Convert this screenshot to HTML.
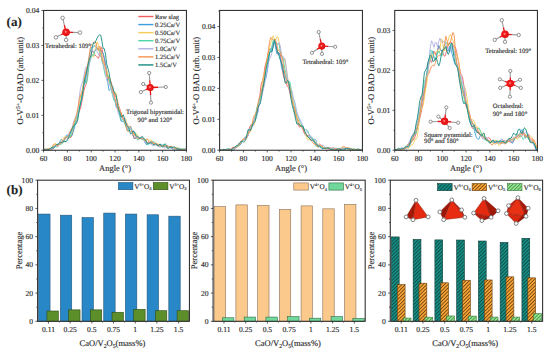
<!DOCTYPE html><html><head><meta charset="utf-8"><style>html,body{margin:0;padding:0;background:#fff;width:550px;height:354px;overflow:hidden}svg{display:block}text{stroke:#444;stroke-width:0.15px}</style></head><body>
<svg width="550" height="354" viewBox="0 0 550 354" text-rendering="geometricPrecision" font-family='"Liberation Serif", serif' fill="#222">
<defs>
<radialGradient id="ball" cx="0.45" cy="0.45" r="0.6"><stop offset="0" stop-color="#ffb0b0"/><stop offset="0.3" stop-color="#f42020"/><stop offset="1" stop-color="#d80808"/></radialGradient>
<pattern id="hT" patternUnits="userSpaceOnUse" width="2.5" height="3" patternTransform="rotate(45)"><rect width="2.5" height="3" fill="#178c82"/><rect width="0.65" height="3" fill="#0a3a35"/></pattern>
<pattern id="hO" patternUnits="userSpaceOnUse" width="2.5" height="3" patternTransform="rotate(45)"><rect width="2.5" height="3" fill="#f7a436"/><rect width="0.8" height="3" fill="#6b4010"/></pattern>
<pattern id="hG" patternUnits="userSpaceOnUse" width="2.5" height="3" patternTransform="rotate(45)"><rect width="2.5" height="3" fill="#8fe68f"/><rect width="0.7" height="3" fill="#3f7a3f"/></pattern>
</defs>
<g clip-path="none">
<polyline points="43.60,150.25 44.79,149.08 45.98,149.53 47.17,150.05 48.36,150.25 49.55,150.09 50.74,149.00 51.93,149.05 53.12,149.01 54.31,146.95 55.50,144.94 56.69,145.20 57.89,146.20 59.08,145.21 60.27,143.39 61.46,143.16 62.65,143.03 63.84,141.11 65.03,137.70 66.22,136.38 67.41,138.24 68.60,138.22 69.79,137.55 70.98,137.38 72.17,134.83 73.36,129.50 74.55,123.90 75.74,122.48 76.93,121.39 78.12,114.84 79.31,110.82 80.50,108.75 81.69,102.48 82.88,95.94 84.07,89.83 85.26,85.86 86.45,83.38 87.65,74.45 88.84,63.37 90.03,57.91 91.22,54.42 92.41,50.64 93.60,52.05 94.79,55.26 95.98,55.70 97.17,56.98 98.36,58.41 99.55,55.48 100.74,47.41 101.93,48.02 103.12,54.66 104.31,59.19 105.50,66.25 106.69,71.54 107.88,76.46 109.07,81.48 110.26,80.95 111.45,82.93 112.64,89.85 113.83,93.72 115.03,95.30 116.22,97.18 117.41,101.24 118.60,105.83 119.79,108.87 120.98,113.75 122.17,117.05 123.36,118.40 124.55,121.40 125.74,122.41 126.93,123.36 128.12,126.40 129.31,126.64 130.50,126.65 131.69,129.88 132.88,135.06 134.07,138.60 135.26,138.01 136.45,136.92 137.64,137.72 138.83,138.21 140.02,138.10 141.21,138.84 142.40,139.04 143.59,139.43 144.79,141.15 145.98,140.63 147.17,138.68 148.36,140.35 149.55,143.14 150.74,142.98 151.93,141.64 153.12,141.58 154.31,143.13 155.50,144.89 156.69,145.15 157.88,144.37 159.07,144.68 160.26,145.70 161.45,146.09 162.64,145.82 163.83,145.74 165.02,146.19 166.21,145.87 167.40,145.48 168.59,146.47 169.78,147.05 170.97,146.89 172.16,147.44 173.36,148.06 174.55,149.12 175.74,149.74 176.93,148.84 178.12,148.45 179.31,148.77 180.50,149.16 181.69,149.84 182.88,150.17 184.07,149.52 185.26,148.90 186.45,149.56" fill="none" stroke="#f25c5c" stroke-width="0.9" stroke-linejoin="round"/>
<polyline points="43.60,150.25 44.79,149.82 45.98,149.08 47.17,148.69 48.36,148.82 49.55,148.66 50.74,148.58 51.93,149.01 53.12,148.31 54.31,147.15 55.50,146.21 56.69,145.10 57.89,144.61 59.08,143.65 60.27,140.59 61.46,139.18 62.65,140.42 63.84,140.40 65.03,138.26 66.22,135.37 67.41,134.88 68.60,136.69 69.79,136.95 70.98,135.82 72.17,135.20 73.36,131.64 74.55,126.90 75.74,122.12 76.93,115.59 78.12,109.86 79.31,108.57 80.50,104.64 81.69,95.36 82.88,86.75 84.07,84.89 85.26,83.00 86.45,74.38 87.65,67.13 88.84,60.23 90.03,52.14 91.22,47.65 92.41,46.60 93.60,47.09 94.79,45.40 95.98,46.79 97.17,48.68 98.36,48.42 99.55,49.13 100.74,49.81 101.93,52.43 103.12,53.07 104.31,57.27 105.50,63.39 106.69,70.99 107.88,83.56 109.07,90.56 110.26,89.36 111.45,89.09 112.64,92.76 113.83,95.67 115.03,100.88 116.22,107.50 117.41,107.73 118.60,108.37 119.79,115.41 120.98,121.06 122.17,121.30 123.36,121.42 124.55,122.95 125.74,125.40 126.93,128.62 128.12,130.82 129.31,128.44 130.50,126.42 131.69,129.82 132.88,134.16 134.07,137.16 135.26,138.96 136.45,137.69 137.64,137.35 138.83,138.71 140.02,138.31 141.21,137.84 142.40,138.13 143.59,139.26 144.79,141.61 145.98,144.27 147.17,144.56 148.36,143.23 149.55,142.51 150.74,141.95 151.93,142.15 153.12,143.91 154.31,144.59 155.50,144.39 156.69,144.66 157.88,144.96 159.07,144.93 160.26,144.63 161.45,144.91 162.64,145.17 163.83,145.13 165.02,145.82 166.21,147.07 167.40,147.30 168.59,147.25 169.78,146.91 170.97,147.02 172.16,148.75 173.36,149.83 174.55,149.35 175.74,149.27 176.93,149.80 178.12,149.81 179.31,150.19 180.50,150.25 181.69,149.87 182.88,149.70 184.07,150.20 185.26,150.25 186.45,150.25" fill="none" stroke="#3d9edc" stroke-width="0.9" stroke-linejoin="round"/>
<polyline points="43.60,150.25 44.79,150.21 45.98,149.53 47.17,148.72 48.36,148.68 49.55,149.18 50.74,148.97 51.93,147.71 53.12,145.96 54.31,143.90 55.50,143.39 56.69,144.87 57.89,145.05 59.08,143.81 60.27,142.58 61.46,140.93 62.65,139.37 63.84,137.78 65.03,136.34 66.22,137.06 67.41,138.42 68.60,137.93 69.79,136.16 70.98,134.99 72.17,132.41 73.36,126.32 74.55,122.19 75.74,120.76 76.93,118.78 78.12,114.30 79.31,105.09 80.50,96.89 81.69,94.25 82.88,86.77 84.07,77.43 85.26,74.24 86.45,70.30 87.65,66.07 88.84,63.54 90.03,57.14 91.22,52.82 92.41,56.36 93.60,57.08 94.79,51.27 95.98,44.88 97.17,41.90 98.36,45.16 99.55,50.40 100.74,52.69 101.93,54.14 103.12,58.90 104.31,65.56 105.50,68.41 106.69,69.73 107.88,74.69 109.07,80.76 110.26,85.37 111.45,90.60 112.64,94.17 113.83,94.27 115.03,91.96 116.22,93.55 117.41,101.86 118.60,107.44 119.79,111.00 120.98,115.51 122.17,118.11 123.36,119.54 124.55,118.30 125.74,118.95 126.93,123.85 128.12,126.54 129.31,126.22 130.50,128.10 131.69,130.48 132.88,132.97 134.07,135.54 135.26,134.44 136.45,133.39 137.64,134.87 138.83,137.09 140.02,138.30 141.21,137.95 142.40,138.37 143.59,140.00 144.79,140.71 145.98,139.82 147.17,139.49 148.36,140.38 149.55,140.46 150.74,139.96 151.93,140.58 153.12,142.50 154.31,144.15 155.50,144.74 156.69,144.50 157.88,143.86 159.07,144.18 160.26,145.29 161.45,146.19 162.64,146.20 163.83,145.68 165.02,146.08 166.21,146.86 167.40,147.51 168.59,147.98 169.78,147.33 170.97,146.31 172.16,146.86 173.36,148.29 174.55,149.14 175.74,148.93 176.93,147.78 178.12,147.92 179.31,149.67 180.50,150.25 181.69,149.99 182.88,150.25 184.07,150.25 185.26,150.25 186.45,149.98" fill="none" stroke="#f6cc58" stroke-width="0.9" stroke-linejoin="round"/>
<polyline points="43.60,150.25 44.79,149.86 45.98,149.49 47.17,149.37 48.36,149.48 49.55,148.93 50.74,148.26 51.93,148.47 53.12,147.63 54.31,146.68 55.50,146.65 56.69,147.09 57.89,146.43 59.08,144.50 60.27,144.57 61.46,144.33 62.65,142.72 63.84,141.86 65.03,139.26 66.22,137.02 67.41,136.61 68.60,136.65 69.79,137.62 70.98,135.39 72.17,130.63 73.36,127.96 74.55,124.76 75.74,119.86 76.93,118.46 78.12,114.27 79.31,108.14 80.50,103.31 81.69,98.61 82.88,90.19 84.07,79.34 85.26,78.37 86.45,83.25 87.65,77.99 88.84,66.13 90.03,61.23 91.22,57.37 92.41,54.66 93.60,55.61 94.79,51.57 95.98,48.86 97.17,48.89 98.36,49.57 99.55,50.97 100.74,54.76 101.93,61.47 103.12,64.77 104.31,70.99 105.50,76.22 106.69,75.11 107.88,75.63 109.07,79.73 110.26,85.45 111.45,90.40 112.64,95.70 113.83,99.98 115.03,101.55 116.22,104.66 117.41,107.30 118.60,110.28 119.79,116.36 120.98,120.37 122.17,119.74 123.36,119.72 124.55,122.55 125.74,126.21 126.93,128.74 128.12,131.03 129.31,131.16 130.50,129.47 131.69,129.30 132.88,131.58 134.07,132.69 135.26,132.63 136.45,136.84 137.64,140.25 138.83,139.05 140.02,137.57 141.21,138.33 142.40,139.87 143.59,139.05 144.79,139.07 145.98,142.12 147.17,144.43 148.36,144.70 149.55,143.05 150.74,141.67 151.93,141.73 153.12,141.74 154.31,142.13 155.50,143.12 156.69,144.29 157.88,145.90 159.07,146.40 160.26,146.07 161.45,146.15 162.64,145.23 163.83,144.58 165.02,145.86 166.21,147.53 167.40,147.36 168.59,146.74 169.78,147.47 170.97,147.95 172.16,147.93 173.36,147.61 174.55,147.52 175.74,148.84 176.93,149.20 178.12,148.15 179.31,148.08 180.50,148.63 181.69,148.93 182.88,148.80 184.07,148.58 185.26,149.15 186.45,150.11" fill="none" stroke="#4ed8aa" stroke-width="0.9" stroke-linejoin="round"/>
<polyline points="43.60,150.25 44.79,150.25 45.98,149.39 47.17,149.70 48.36,149.75 49.55,148.94 50.74,148.45 51.93,147.88 53.12,147.16 54.31,146.70 55.50,145.51 56.69,144.25 57.89,143.91 59.08,143.72 60.27,142.84 61.46,141.72 62.65,140.93 63.84,140.91 65.03,142.17 66.22,141.56 67.41,137.93 68.60,133.71 69.79,132.30 70.98,132.89 72.17,128.52 73.36,122.54 74.55,119.19 75.74,117.60 76.93,115.29 78.12,109.41 79.31,97.31 80.50,87.77 81.69,84.50 82.88,80.75 84.07,75.34 85.26,69.12 86.45,66.30 87.65,66.60 88.84,66.04 90.03,60.72 91.22,52.56 92.41,50.80 93.60,52.41 94.79,50.21 95.98,48.89 97.17,51.38 98.36,54.25 99.55,56.41 100.74,55.96 101.93,56.36 103.12,64.03 104.31,68.18 105.50,71.98 106.69,80.00 107.88,82.53 109.07,84.36 110.26,86.55 111.45,88.80 112.64,93.99 113.83,97.73 115.03,99.43 116.22,103.90 117.41,110.17 118.60,114.42 119.79,115.97 120.98,116.70 122.17,119.87 123.36,119.82 124.55,118.18 125.74,121.14 126.93,125.93 128.12,128.93 129.31,129.25 130.50,128.63 131.69,130.14 132.88,130.69 134.07,130.80 135.26,134.61 136.45,137.37 137.64,137.40 138.83,137.14 140.02,137.66 141.21,138.34 142.40,138.23 143.59,139.07 144.79,142.19 145.98,143.70 147.17,142.58 148.36,142.95 149.55,143.73 150.74,144.05 151.93,145.18 153.12,145.29 154.31,144.83 155.50,144.91 156.69,145.34 157.88,146.11 159.07,146.69 160.26,147.03 161.45,146.65 162.64,146.26 163.83,147.28 165.02,148.26 166.21,147.79 167.40,146.81 168.59,146.55 169.78,147.45 170.97,148.70 172.16,148.36 173.36,147.54 174.55,148.82 175.74,149.85 176.93,149.98 178.12,149.97 179.31,149.08 180.50,148.84 181.69,149.60 182.88,150.25 184.07,150.25 185.26,149.78 186.45,149.82" fill="none" stroke="#b0b0e4" stroke-width="0.9" stroke-linejoin="round"/>
<polyline points="43.60,150.25 44.79,149.11 45.98,149.39 47.17,149.79 48.36,149.23 49.55,148.33 50.74,148.04 51.93,147.32 53.12,145.26 54.31,144.06 55.50,144.73 56.69,146.16 57.89,146.02 59.08,144.43 60.27,143.42 61.46,142.64 62.65,140.89 63.84,139.57 65.03,139.16 66.22,137.88 67.41,136.53 68.60,135.16 69.79,132.38 70.98,129.16 72.17,127.37 73.36,125.14 74.55,120.93 75.74,116.70 76.93,112.65 78.12,106.57 79.31,99.39 80.50,94.93 81.69,93.00 82.88,89.16 84.07,81.81 85.26,73.92 86.45,69.37 87.65,65.09 88.84,58.04 90.03,49.29 91.22,44.76 92.41,44.73 93.60,42.93 94.79,41.90 95.98,43.02 97.17,47.59 98.36,50.92 99.55,46.06 100.74,47.66 101.93,58.68 103.12,62.77 104.31,63.10 105.50,68.09 106.69,75.83 107.88,78.79 109.07,76.80 110.26,78.87 111.45,84.96 112.64,89.73 113.83,93.92 115.03,98.68 116.22,103.48 117.41,107.86 118.60,110.78 119.79,111.21 120.98,112.07 122.17,115.07 123.36,118.61 124.55,121.14 125.74,125.02 126.93,130.62 128.12,131.41 129.31,130.65 130.50,131.56 131.69,130.64 132.88,131.65 134.07,134.03 135.26,135.42 136.45,137.41 137.64,138.19 138.83,138.72 140.02,138.96 141.21,138.18 142.40,138.37 143.59,138.86 144.79,139.77 145.98,141.27 147.17,142.48 148.36,142.92 149.55,142.71 150.74,141.79 151.93,141.65 153.12,143.29 154.31,144.02 155.50,143.44 156.69,143.54 157.88,144.65 159.07,145.72 160.26,145.99 161.45,145.65 162.64,145.81 163.83,146.60 165.02,146.44 166.21,145.94 167.40,146.66 168.59,147.16 169.78,146.56 170.97,146.32 172.16,146.62 173.36,147.26 174.55,148.04 175.74,148.17 176.93,148.18 178.12,149.16 179.31,150.10 180.50,149.66 181.69,149.08 182.88,149.37 184.07,149.91 185.26,150.25 186.45,150.25" fill="none" stroke="#f8924e" stroke-width="0.9" stroke-linejoin="round"/>
<polyline points="43.60,150.25 44.79,149.60 45.98,150.05 47.17,149.95 48.36,149.56 49.55,149.23 50.74,148.40 51.93,147.23 53.12,147.06 54.31,147.33 55.50,145.65 56.69,144.40 57.89,144.53 59.08,143.49 60.27,142.27 61.46,142.31 62.65,142.08 63.84,141.28 65.03,141.47 66.22,141.55 67.41,140.28 68.60,137.78 69.79,134.19 70.98,131.22 72.17,128.90 73.36,125.97 74.55,124.89 75.74,124.36 76.93,122.34 78.12,117.96 79.31,109.79 80.50,103.02 81.69,99.32 82.88,92.15 84.07,83.25 85.26,77.37 86.45,72.39 87.65,66.72 88.84,60.83 90.03,57.72 91.22,55.28 92.41,46.66 93.60,42.38 94.79,43.25 95.98,40.55 97.17,37.95 98.36,35.71 99.55,34.91 100.74,35.16 101.93,41.24 103.12,48.38 104.31,48.68 105.50,54.09 106.69,63.87 107.88,68.22 109.07,72.76 110.26,80.80 111.45,84.89 112.64,86.51 113.83,90.96 115.03,93.36 116.22,95.71 117.41,103.37 118.60,109.59 119.79,112.43 120.98,116.96 122.17,116.74 123.36,114.82 124.55,118.98 125.74,123.24 126.93,125.68 128.12,126.92 129.31,129.69 130.50,133.91 131.69,133.43 132.88,131.17 134.07,131.68 135.26,134.22 136.45,136.20 137.64,136.54 138.83,137.71 140.02,138.74 141.21,137.02 142.40,136.31 143.59,138.32 144.79,139.08 145.98,140.61 147.17,143.25 148.36,143.54 149.55,142.94 150.74,142.86 151.93,143.33 153.12,144.70 154.31,144.75 155.50,143.68 156.69,144.56 157.88,145.79 159.07,144.75 160.26,144.02 161.45,146.09 162.64,147.13 163.83,145.09 165.02,143.66 166.21,145.19 167.40,148.23 168.59,148.74 169.78,147.12 170.97,146.89 172.16,147.40 173.36,147.16 174.55,146.84 175.74,147.68 176.93,148.56 178.12,149.04 179.31,149.52 180.50,149.35 181.69,149.91 182.88,150.25 184.07,150.25 185.26,150.25 186.45,150.25" fill="none" stroke="#178c82" stroke-width="0.9" stroke-linejoin="round"/>
</g>
<rect x="43.6" y="10.45" width="142.85" height="139.8" fill="none" stroke="#333" stroke-width="1.1"/>
<line x1="43.60" y1="150.25" x2="43.60" y2="152.45" stroke="#333" stroke-width="0.8"/>
<text x="43.60" y="160.55" font-size="7.6" text-anchor="middle" font-weight="normal" >60</text>
<line x1="55.50" y1="150.25" x2="55.50" y2="151.55" stroke="#333" stroke-width="0.8"/>
<line x1="67.41" y1="150.25" x2="67.41" y2="152.45" stroke="#333" stroke-width="0.8"/>
<text x="67.41" y="160.55" font-size="7.6" text-anchor="middle" font-weight="normal" >80</text>
<line x1="79.31" y1="150.25" x2="79.31" y2="151.55" stroke="#333" stroke-width="0.8"/>
<line x1="91.22" y1="150.25" x2="91.22" y2="152.45" stroke="#333" stroke-width="0.8"/>
<text x="91.22" y="160.55" font-size="7.6" text-anchor="middle" font-weight="normal" >100</text>
<line x1="103.12" y1="150.25" x2="103.12" y2="151.55" stroke="#333" stroke-width="0.8"/>
<line x1="115.03" y1="150.25" x2="115.03" y2="152.45" stroke="#333" stroke-width="0.8"/>
<text x="115.03" y="160.55" font-size="7.6" text-anchor="middle" font-weight="normal" >120</text>
<line x1="126.93" y1="150.25" x2="126.93" y2="151.55" stroke="#333" stroke-width="0.8"/>
<line x1="138.83" y1="150.25" x2="138.83" y2="152.45" stroke="#333" stroke-width="0.8"/>
<text x="138.83" y="160.55" font-size="7.6" text-anchor="middle" font-weight="normal" >140</text>
<line x1="150.74" y1="150.25" x2="150.74" y2="151.55" stroke="#333" stroke-width="0.8"/>
<line x1="162.64" y1="150.25" x2="162.64" y2="152.45" stroke="#333" stroke-width="0.8"/>
<text x="162.64" y="160.55" font-size="7.6" text-anchor="middle" font-weight="normal" >160</text>
<line x1="174.55" y1="150.25" x2="174.55" y2="151.55" stroke="#333" stroke-width="0.8"/>
<line x1="186.45" y1="150.25" x2="186.45" y2="152.45" stroke="#333" stroke-width="0.8"/>
<text x="186.45" y="160.55" font-size="7.6" text-anchor="middle" font-weight="normal" >180</text>
<line x1="41.4" y1="150.25" x2="43.6" y2="150.25" stroke="#333" stroke-width="0.8"/>
<text x="39.30" y="152.85" font-size="7.6" text-anchor="end" font-weight="normal" >0.00</text>
<line x1="41.4" y1="115.30" x2="43.6" y2="115.30" stroke="#333" stroke-width="0.8"/>
<text x="39.30" y="117.90" font-size="7.6" text-anchor="end" font-weight="normal" >0.01</text>
<line x1="41.4" y1="80.35" x2="43.6" y2="80.35" stroke="#333" stroke-width="0.8"/>
<text x="39.30" y="82.95" font-size="7.6" text-anchor="end" font-weight="normal" >0.02</text>
<line x1="41.4" y1="45.40" x2="43.6" y2="45.40" stroke="#333" stroke-width="0.8"/>
<text x="39.30" y="48.00" font-size="7.6" text-anchor="end" font-weight="normal" >0.03</text>
<line x1="41.4" y1="10.45" x2="43.6" y2="10.45" stroke="#333" stroke-width="0.8"/>
<text x="39.30" y="13.05" font-size="7.6" text-anchor="end" font-weight="normal" >0.04</text>
<line x1="42.300000000000004" y1="132.78" x2="43.6" y2="132.78" stroke="#333" stroke-width="0.7"/>
<line x1="42.300000000000004" y1="97.82" x2="43.6" y2="97.82" stroke="#333" stroke-width="0.7"/>
<line x1="42.300000000000004" y1="62.88" x2="43.6" y2="62.88" stroke="#333" stroke-width="0.7"/>
<line x1="42.300000000000004" y1="27.93" x2="43.6" y2="27.93" stroke="#333" stroke-width="0.7"/>
<text x="115.02" y="171.30" font-size="8.5" text-anchor="middle" font-weight="normal" >Angle (°)</text>
<text transform="translate(23.10,80.65) rotate(-90)" font-size="8.65" text-anchor="middle">O-V<tspan font-size="5.8" dy="-3.3">5+</tspan><tspan dy="3.3">-O BAD (arb. unit)</tspan></text>
<g clip-path="none">
<polyline points="219.60,150.25 220.79,150.21 221.98,150.25 223.17,150.25 224.36,150.03 225.55,149.69 226.74,150.07 227.93,150.08 229.12,149.30 230.31,149.31 231.50,148.84 232.69,147.30 233.88,147.37 235.08,147.89 236.27,147.58 237.46,146.51 238.65,144.00 239.84,142.68 241.03,141.55 242.22,140.00 243.41,139.53 244.60,138.87 245.79,138.65 246.98,137.49 248.17,133.72 249.36,128.18 250.55,125.06 251.74,124.67 252.93,122.92 254.12,120.14 255.31,116.33 256.50,113.44 257.69,111.23 258.88,105.11 260.07,93.75 261.26,83.94 262.45,80.95 263.65,76.18 264.84,67.35 266.03,62.62 267.22,58.55 268.41,52.38 269.60,49.01 270.79,49.27 271.98,48.11 273.17,44.20 274.36,42.00 275.55,42.80 276.74,48.79 277.93,54.38 279.12,53.17 280.31,54.30 281.50,63.27 282.69,72.08 283.88,77.41 285.07,80.61 286.26,83.86 287.45,86.26 288.64,87.73 289.83,93.03 291.02,97.61 292.22,99.35 293.41,104.42 294.60,111.78 295.79,116.63 296.98,119.74 298.17,124.22 299.36,127.20 300.55,126.27 301.74,126.27 302.93,129.50 304.12,132.87 305.31,134.69 306.50,136.09 307.69,136.27 308.88,135.24 310.07,135.78 311.26,137.93 312.45,139.69 313.64,141.24 314.83,143.15 316.02,144.95 317.21,145.91 318.40,145.12 319.59,144.02 320.79,145.16 321.98,147.11 323.17,148.19 324.36,148.46 325.55,148.15 326.74,148.55 327.93,149.17 329.12,148.95 330.31,148.49 331.50,148.09 332.69,147.90 333.88,148.12 335.07,148.97 336.26,149.42 337.45,148.94 338.64,148.41 339.83,148.69 341.02,149.23 342.21,148.74 343.40,148.31 344.59,148.78 345.78,148.54 346.97,148.04 348.16,148.99 349.36,149.67 350.55,149.26 351.74,149.28 352.93,149.39 354.12,149.18 355.31,149.25 356.50,149.34 357.69,149.36 358.88,149.83 360.07,150.25 361.26,150.25 362.45,150.25" fill="none" stroke="#f25c5c" stroke-width="0.9" stroke-linejoin="round"/>
<polyline points="219.60,150.25 220.79,149.60 221.98,149.81 223.17,150.15 224.36,149.72 225.55,149.54 226.74,150.04 227.93,150.25 229.12,150.25 230.31,149.97 231.50,150.24 232.69,150.25 233.88,150.14 235.08,147.91 236.27,146.13 237.46,145.38 238.65,145.08 239.84,145.28 241.03,144.10 242.22,141.04 243.41,139.36 244.60,138.23 245.79,137.08 246.98,137.41 248.17,135.71 249.36,130.76 250.55,127.43 251.74,125.74 252.93,123.78 254.12,122.71 255.31,120.23 256.50,116.56 257.69,112.53 258.88,104.38 260.07,96.90 261.26,93.07 262.45,87.01 263.65,80.96 264.84,80.18 266.03,77.63 267.22,71.28 268.41,62.48 269.60,51.57 270.79,48.68 271.98,51.08 273.17,45.63 274.36,40.45 275.55,47.51 276.74,53.57 277.93,52.42 279.12,52.64 280.31,58.93 281.50,67.13 282.69,70.70 283.88,70.67 285.07,75.29 286.26,80.01 287.45,79.65 288.64,82.68 289.83,89.61 291.02,94.77 292.22,99.45 293.41,106.09 294.60,111.19 295.79,114.94 296.98,119.59 298.17,122.58 299.36,124.81 300.55,125.87 301.74,125.28 302.93,126.40 304.12,131.03 305.31,134.57 306.50,135.75 307.69,137.07 308.88,137.36 310.07,136.87 311.26,136.67 312.45,138.10 313.64,139.66 314.83,139.18 316.02,140.65 317.21,144.96 318.40,147.27 319.59,146.67 320.79,147.04 321.98,148.29 323.17,147.90 324.36,147.86 325.55,148.28 326.74,147.86 327.93,147.82 329.12,148.49 330.31,148.87 331.50,149.31 332.69,149.47 333.88,148.97 335.07,148.87 336.26,149.91 337.45,150.25 338.64,150.02 339.83,149.85 341.02,148.79 342.21,147.56 343.40,148.26 344.59,149.45 345.78,149.25 346.97,148.29 348.16,148.31 349.36,148.49 350.55,148.67 351.74,149.29 352.93,149.93 354.12,150.25 355.31,150.25 356.50,150.25 357.69,150.25 358.88,149.97 360.07,149.95 361.26,150.08 362.45,150.20" fill="none" stroke="#3d9edc" stroke-width="0.9" stroke-linejoin="round"/>
<polyline points="219.60,150.25 220.79,149.98 221.98,149.83 223.17,150.04 224.36,150.25 225.55,150.25 226.74,150.25 227.93,150.00 229.12,149.38 230.31,149.59 231.50,150.09 232.69,149.35 233.88,148.39 235.08,147.04 236.27,146.17 237.46,147.02 238.65,146.60 239.84,143.88 241.03,141.92 242.22,140.42 243.41,138.98 244.60,137.67 245.79,136.56 246.98,136.06 248.17,134.68 249.36,133.13 250.55,130.70 251.74,126.13 252.93,124.37 254.12,125.09 255.31,121.11 256.50,112.08 257.69,105.58 258.88,102.38 260.07,99.31 261.26,92.26 262.45,81.75 263.65,75.53 264.84,71.33 266.03,65.06 267.22,58.75 268.41,53.23 269.60,47.70 270.79,42.75 271.98,38.29 273.17,35.81 274.36,38.83 275.55,40.51 276.74,37.18 277.93,36.64 279.12,42.32 280.31,50.60 281.50,55.93 282.69,57.96 283.88,58.17 285.07,61.91 286.26,68.29 287.45,76.23 288.64,82.59 289.83,84.71 291.02,88.85 292.22,96.95 293.41,103.58 294.60,108.68 295.79,114.33 296.98,119.41 298.17,123.48 299.36,125.42 300.55,125.11 301.74,124.93 302.93,126.27 304.12,129.88 305.31,133.49 306.50,136.90 307.69,139.79 308.88,139.78 310.07,139.12 311.26,139.51 312.45,138.96 313.64,139.65 314.83,141.56 316.02,142.53 317.21,143.63 318.40,144.54 319.59,145.28 320.79,146.09 321.98,146.92 323.17,147.28 324.36,147.77 325.55,148.06 326.74,147.99 327.93,148.20 329.12,148.34 330.31,148.01 331.50,148.48 332.69,149.28 333.88,148.84 335.07,148.73 336.26,149.27 337.45,149.60 338.64,149.49 339.83,148.65 341.02,148.50 342.21,148.26 343.40,147.56 344.59,147.58 345.78,148.33 346.97,149.22 348.16,149.90 349.36,150.11 350.55,149.54 351.74,148.89 352.93,148.93 354.12,149.38 355.31,150.21 356.50,150.25 357.69,150.18 358.88,149.76 360.07,149.82 361.26,149.99 362.45,150.06" fill="none" stroke="#f6cc58" stroke-width="0.9" stroke-linejoin="round"/>
<polyline points="219.60,150.25 220.79,150.25 221.98,150.25 223.17,149.99 224.36,149.68 225.55,149.42 226.74,149.60 227.93,150.00 229.12,150.12 230.31,149.86 231.50,149.43 232.69,148.85 233.88,148.08 235.08,146.75 236.27,146.17 237.46,146.49 238.65,145.91 239.84,143.50 241.03,141.51 242.22,140.71 243.41,140.24 244.60,139.33 245.79,137.29 246.98,135.20 248.17,133.50 249.36,131.38 250.55,128.56 251.74,125.01 252.93,122.70 254.12,120.69 255.31,115.94 256.50,109.59 257.69,105.08 258.88,101.69 260.07,98.54 261.26,93.43 262.45,87.78 263.65,84.21 264.84,77.53 266.03,67.94 267.22,60.01 268.41,55.36 269.60,52.94 270.79,50.62 271.98,45.95 273.17,40.40 274.36,38.90 275.55,41.57 276.74,44.12 277.93,43.37 279.12,44.31 280.31,51.77 281.50,55.10 282.69,56.31 283.88,62.98 285.07,69.89 286.26,74.54 287.45,79.95 288.64,82.31 289.83,81.94 291.02,87.92 292.22,97.09 293.41,99.41 294.60,102.14 295.79,109.85 296.98,114.69 298.17,116.90 299.36,120.25 300.55,122.46 301.74,125.61 302.93,128.75 304.12,129.11 305.31,129.53 306.50,129.76 307.69,130.48 308.88,133.66 310.07,136.62 311.26,137.78 312.45,138.52 313.64,140.42 314.83,143.60 316.02,146.09 317.21,146.59 318.40,145.54 319.59,145.65 320.79,146.84 321.98,147.48 323.17,147.92 324.36,148.30 325.55,148.48 326.74,148.23 327.93,147.62 329.12,148.17 330.31,149.22 331.50,148.98 332.69,148.18 333.88,148.25 335.07,148.53 336.26,148.19 337.45,148.47 338.64,149.72 339.83,150.25 341.02,149.94 342.21,148.94 343.40,148.64 344.59,148.91 345.78,148.74 346.97,148.37 348.16,148.79 349.36,148.99 350.55,149.00 351.74,149.91 352.93,149.70 354.12,148.66 355.31,149.32 356.50,150.24 357.69,150.25 358.88,149.98 360.07,149.59 361.26,149.59 362.45,149.95" fill="none" stroke="#4ed8aa" stroke-width="0.9" stroke-linejoin="round"/>
<polyline points="219.60,150.25 220.79,150.25 221.98,150.25 223.17,150.25 224.36,150.25 225.55,150.25 226.74,150.25 227.93,150.09 229.12,149.90 230.31,149.34 231.50,149.28 232.69,149.58 233.88,148.84 235.08,148.22 236.27,147.84 237.46,146.66 238.65,144.99 239.84,142.80 241.03,141.69 242.22,141.99 243.41,140.58 244.60,137.47 245.79,136.89 246.98,137.24 248.17,134.22 249.36,130.39 250.55,127.85 251.74,127.23 252.93,126.23 254.12,121.92 255.31,117.35 256.50,115.80 257.69,112.95 258.88,106.26 260.07,101.84 261.26,97.88 262.45,93.03 263.65,88.64 264.84,82.43 266.03,75.61 267.22,68.92 268.41,62.54 269.60,58.97 270.79,57.12 271.98,51.90 273.17,45.26 274.36,43.54 275.55,45.42 276.74,45.66 277.93,44.15 279.12,42.57 280.31,46.11 281.50,54.79 282.69,58.72 283.88,57.65 285.07,58.92 286.26,67.40 287.45,78.02 288.64,85.20 289.83,89.42 291.02,89.53 292.22,91.87 293.41,97.89 294.60,102.11 295.79,106.44 296.98,112.20 298.17,115.92 299.36,118.31 300.55,120.94 301.74,123.24 302.93,126.53 304.12,129.11 305.31,129.38 306.50,130.64 307.69,132.94 308.88,133.78 310.07,135.65 311.26,138.65 312.45,140.05 313.64,141.30 314.83,142.58 316.02,143.48 317.21,144.97 318.40,145.59 319.59,145.26 320.79,145.36 321.98,145.07 323.17,145.17 324.36,146.65 325.55,148.03 326.74,148.62 327.93,148.09 329.12,147.26 330.31,147.70 331.50,148.80 332.69,148.78 333.88,148.28 335.07,148.42 336.26,148.86 337.45,149.08 338.64,148.52 339.83,148.08 341.02,148.58 342.21,149.04 343.40,148.68 344.59,147.97 345.78,147.92 346.97,148.41 348.16,148.74 349.36,148.47 350.55,148.92 351.74,150.25 352.93,150.25 354.12,150.25 355.31,150.25 356.50,150.25 357.69,149.96 358.88,149.82 360.07,150.24 361.26,150.25 362.45,150.25" fill="none" stroke="#b0b0e4" stroke-width="0.9" stroke-linejoin="round"/>
<polyline points="219.60,150.25 220.79,150.13 221.98,150.25 223.17,150.25 224.36,149.99 225.55,149.71 226.74,149.60 227.93,149.89 229.12,149.87 230.31,149.43 231.50,149.04 232.69,148.14 233.88,147.82 235.08,147.72 236.27,146.64 237.46,145.24 238.65,144.94 239.84,144.03 241.03,142.47 242.22,140.31 243.41,139.20 244.60,139.55 245.79,138.89 246.98,136.66 248.17,132.93 249.36,131.32 250.55,130.87 251.74,126.36 252.93,119.92 254.12,115.55 255.31,113.79 256.50,111.47 257.69,105.41 258.88,98.57 260.07,96.05 261.26,93.33 262.45,88.96 263.65,81.66 264.84,71.06 266.03,63.62 267.22,58.33 268.41,50.57 269.60,41.34 270.79,37.36 271.98,38.66 273.17,40.26 274.36,39.72 275.55,39.30 276.74,44.56 277.93,50.14 279.12,50.41 280.31,52.51 281.50,55.15 282.69,60.61 283.88,68.77 285.07,74.42 286.26,78.48 287.45,82.87 288.64,85.06 289.83,87.54 291.02,94.42 292.22,102.66 293.41,105.86 294.60,107.89 295.79,113.19 296.98,117.19 298.17,119.49 299.36,123.44 300.55,126.15 301.74,127.57 302.93,129.65 304.12,131.07 305.31,132.58 306.50,134.88 307.69,136.37 308.88,137.92 310.07,139.59 311.26,140.35 312.45,142.07 313.64,143.91 314.83,144.16 316.02,144.74 317.21,146.62 318.40,147.18 319.59,145.91 320.79,145.31 321.98,145.95 323.17,147.22 324.36,148.37 325.55,148.70 326.74,148.31 327.93,147.63 329.12,148.06 330.31,148.92 331.50,149.86 332.69,150.17 333.88,149.41 335.07,148.65 336.26,148.57 337.45,149.44 338.64,149.93 339.83,149.22 341.02,148.56 342.21,147.31 343.40,146.39 344.59,146.65 345.78,147.89 346.97,148.30 348.16,147.66 349.36,147.98 350.55,148.98 351.74,149.63 352.93,150.07 354.12,150.25 355.31,150.09 356.50,149.78 357.69,149.45 358.88,149.21 360.07,149.53 361.26,149.97 362.45,150.20" fill="none" stroke="#f8924e" stroke-width="0.9" stroke-linejoin="round"/>
<polyline points="219.60,150.25 220.79,150.25 221.98,150.17 223.17,149.44 224.36,149.57 225.55,149.73 226.74,149.12 227.93,148.97 229.12,148.93 230.31,149.43 231.50,149.90 232.69,148.51 233.88,147.60 235.08,146.85 236.27,145.96 237.46,145.80 238.65,144.52 239.84,142.73 241.03,141.72 242.22,141.38 243.41,141.93 244.60,141.51 245.79,139.28 246.98,134.27 248.17,129.58 249.36,129.78 250.55,130.41 251.74,127.63 252.93,123.93 254.12,122.55 255.31,120.70 256.50,114.40 257.69,108.34 258.88,105.07 260.07,104.10 261.26,98.62 262.45,90.36 263.65,85.02 264.84,77.17 266.03,69.49 267.22,64.55 268.41,58.69 269.60,53.00 270.79,51.42 271.98,51.73 273.17,46.40 274.36,40.45 275.55,43.82 276.74,49.33 277.93,53.08 279.12,56.30 280.31,59.93 281.50,62.55 282.69,66.54 283.88,75.30 285.07,82.89 286.26,83.06 287.45,80.56 288.64,81.48 289.83,89.53 291.02,99.25 292.22,105.23 293.41,109.79 294.60,114.25 295.79,119.94 296.98,124.19 298.17,123.91 299.36,124.42 300.55,126.20 301.74,125.94 302.93,126.09 304.12,129.54 305.31,132.31 306.50,134.32 307.69,136.68 308.88,137.42 310.07,139.00 311.26,140.54 312.45,139.92 313.64,140.34 314.83,142.38 316.02,143.44 317.21,145.00 318.40,146.19 319.59,146.17 320.79,147.31 321.98,148.59 323.17,148.66 324.36,148.28 325.55,148.20 326.74,148.28 327.93,147.79 329.12,148.26 330.31,149.33 331.50,149.44 332.69,149.59 333.88,150.25 335.07,150.25 336.26,150.09 337.45,149.12 338.64,149.06 339.83,149.09 341.02,149.62 342.21,150.11 343.40,149.83 344.59,149.18 345.78,148.46 346.97,148.44 348.16,148.84 349.36,148.85 350.55,149.02 351.74,149.15 352.93,149.45 354.12,150.17 355.31,150.25 356.50,149.62 357.69,148.94 358.88,149.29 360.07,149.83 361.26,150.06 362.45,150.25" fill="none" stroke="#178c82" stroke-width="0.9" stroke-linejoin="round"/>
</g>
<rect x="219.6" y="10.45" width="142.85" height="139.8" fill="none" stroke="#333" stroke-width="1.1"/>
<line x1="219.60" y1="150.25" x2="219.60" y2="152.45" stroke="#333" stroke-width="0.8"/>
<text x="219.60" y="160.55" font-size="7.6" text-anchor="middle" font-weight="normal" >60</text>
<line x1="231.50" y1="150.25" x2="231.50" y2="151.55" stroke="#333" stroke-width="0.8"/>
<line x1="243.41" y1="150.25" x2="243.41" y2="152.45" stroke="#333" stroke-width="0.8"/>
<text x="243.41" y="160.55" font-size="7.6" text-anchor="middle" font-weight="normal" >80</text>
<line x1="255.31" y1="150.25" x2="255.31" y2="151.55" stroke="#333" stroke-width="0.8"/>
<line x1="267.22" y1="150.25" x2="267.22" y2="152.45" stroke="#333" stroke-width="0.8"/>
<text x="267.22" y="160.55" font-size="7.6" text-anchor="middle" font-weight="normal" >100</text>
<line x1="279.12" y1="150.25" x2="279.12" y2="151.55" stroke="#333" stroke-width="0.8"/>
<line x1="291.02" y1="150.25" x2="291.02" y2="152.45" stroke="#333" stroke-width="0.8"/>
<text x="291.02" y="160.55" font-size="7.6" text-anchor="middle" font-weight="normal" >120</text>
<line x1="302.93" y1="150.25" x2="302.93" y2="151.55" stroke="#333" stroke-width="0.8"/>
<line x1="314.83" y1="150.25" x2="314.83" y2="152.45" stroke="#333" stroke-width="0.8"/>
<text x="314.83" y="160.55" font-size="7.6" text-anchor="middle" font-weight="normal" >140</text>
<line x1="326.74" y1="150.25" x2="326.74" y2="151.55" stroke="#333" stroke-width="0.8"/>
<line x1="338.64" y1="150.25" x2="338.64" y2="152.45" stroke="#333" stroke-width="0.8"/>
<text x="338.64" y="160.55" font-size="7.6" text-anchor="middle" font-weight="normal" >160</text>
<line x1="350.55" y1="150.25" x2="350.55" y2="151.55" stroke="#333" stroke-width="0.8"/>
<line x1="362.45" y1="150.25" x2="362.45" y2="152.45" stroke="#333" stroke-width="0.8"/>
<text x="362.45" y="160.55" font-size="7.6" text-anchor="middle" font-weight="normal" >180</text>
<line x1="217.4" y1="150.25" x2="219.6" y2="150.25" stroke="#333" stroke-width="0.8"/>
<text x="215.30" y="152.85" font-size="7.6" text-anchor="end" font-weight="normal" >0.00</text>
<line x1="217.4" y1="119.32" x2="219.6" y2="119.32" stroke="#333" stroke-width="0.8"/>
<text x="215.30" y="121.92" font-size="7.6" text-anchor="end" font-weight="normal" >0.01</text>
<line x1="217.4" y1="88.39" x2="219.6" y2="88.39" stroke="#333" stroke-width="0.8"/>
<text x="215.30" y="90.99" font-size="7.6" text-anchor="end" font-weight="normal" >0.02</text>
<line x1="217.4" y1="57.46" x2="219.6" y2="57.46" stroke="#333" stroke-width="0.8"/>
<text x="215.30" y="60.06" font-size="7.6" text-anchor="end" font-weight="normal" >0.03</text>
<line x1="217.4" y1="26.53" x2="219.6" y2="26.53" stroke="#333" stroke-width="0.8"/>
<text x="215.30" y="29.13" font-size="7.6" text-anchor="end" font-weight="normal" >0.04</text>
<line x1="218.29999999999998" y1="134.79" x2="219.6" y2="134.79" stroke="#333" stroke-width="0.7"/>
<line x1="218.29999999999998" y1="103.86" x2="219.6" y2="103.86" stroke="#333" stroke-width="0.7"/>
<line x1="218.29999999999998" y1="72.93" x2="219.6" y2="72.93" stroke="#333" stroke-width="0.7"/>
<line x1="218.29999999999998" y1="42.00" x2="219.6" y2="42.00" stroke="#333" stroke-width="0.7"/>
<line x1="218.29999999999998" y1="11.07" x2="219.6" y2="11.07" stroke="#333" stroke-width="0.7"/>
<text x="291.02" y="171.30" font-size="8.5" text-anchor="middle" font-weight="normal" >Angle (°)</text>
<text transform="translate(199.10,80.65) rotate(-90)" font-size="8.65" text-anchor="middle">O-V<tspan font-size="5.8" dy="-3.3">4+</tspan><tspan dy="3.3">-O BAD (arb. unit)</tspan></text>
<g clip-path="none">
<polyline points="394.70,150.25 395.89,150.25 397.08,150.25 398.27,149.88 399.46,149.51 400.65,150.02 401.84,150.25 403.03,149.74 404.22,148.52 405.41,147.80 406.60,147.49 407.79,145.17 408.98,143.12 410.16,142.17 411.35,141.63 412.54,140.79 413.73,139.13 414.92,136.98 416.11,133.47 417.30,127.81 418.49,123.53 419.68,118.81 420.87,113.64 422.06,108.27 423.25,100.90 424.44,93.22 425.63,86.04 426.82,73.97 428.01,63.06 429.20,60.23 430.39,61.15 431.58,62.51 432.77,57.98 433.96,51.27 435.15,53.05 436.34,56.28 437.52,50.85 438.71,45.82 439.90,48.25 441.09,50.15 442.28,51.09 443.47,54.70 444.66,56.40 445.85,53.55 447.04,48.91 448.23,44.97 449.42,42.40 450.61,42.33 451.80,42.64 452.99,45.12 454.18,47.40 455.37,47.28 456.56,51.47 457.75,58.31 458.94,64.04 460.13,71.15 461.32,75.47 462.51,77.22 463.70,84.67 464.89,98.14 466.08,106.44 467.26,108.42 468.45,110.27 469.64,113.83 470.83,120.84 472.02,127.78 473.21,128.65 474.40,128.39 475.59,129.51 476.78,130.88 477.97,132.96 479.16,134.29 480.35,134.38 481.54,134.86 482.73,136.07 483.92,137.69 485.11,138.76 486.30,138.63 487.49,138.20 488.68,137.69 489.87,138.41 491.06,140.34 492.25,142.00 493.44,142.15 494.62,141.33 495.81,141.55 497.00,142.25 498.19,142.61 499.38,142.51 500.57,142.08 501.76,141.72 502.95,140.66 504.14,140.25 505.33,141.41 506.52,142.52 507.71,141.48 508.90,140.92 510.09,142.27 511.28,142.15 512.47,141.57 513.66,141.25 514.85,138.40 516.04,136.56 517.23,136.81 518.42,136.84 519.61,136.94 520.80,136.92 521.99,135.66 523.18,133.27 524.36,133.23 525.55,135.80 526.74,136.37 527.93,133.84 529.12,135.35 530.31,139.53 531.50,138.99 532.69,138.82 533.88,143.05 535.07,146.28 536.26,147.53 537.45,149.56" fill="none" stroke="#f25c5c" stroke-width="0.9" stroke-linejoin="round"/>
<polyline points="394.70,150.25 395.89,150.21 397.08,149.29 398.27,148.46 399.46,148.49 400.65,149.05 401.84,150.05 403.03,150.25 404.22,149.36 405.41,147.38 406.60,146.12 407.79,144.99 408.98,145.00 410.16,144.36 411.35,141.82 412.54,138.16 413.73,136.05 414.92,134.14 416.11,131.74 417.30,127.03 418.49,122.46 419.68,115.50 420.87,108.47 422.06,101.50 423.25,95.01 424.44,89.29 425.63,82.26 426.82,73.69 428.01,66.46 429.20,62.18 430.39,59.95 431.58,53.87 432.77,50.80 433.96,57.71 435.15,60.30 436.34,57.35 437.52,51.04 438.71,45.40 439.90,48.35 441.09,51.22 442.28,50.34 443.47,50.19 444.66,48.97 445.85,48.24 447.04,50.46 448.23,51.13 449.42,46.40 450.61,47.85 451.80,52.72 452.99,57.53 454.18,61.87 455.37,64.66 456.56,66.10 457.75,68.28 458.94,73.19 460.13,80.74 461.32,83.95 462.51,87.87 463.70,94.00 464.89,97.66 466.08,101.89 467.26,105.93 468.45,109.88 469.64,115.79 470.83,121.32 472.02,122.69 473.21,123.55 474.40,130.12 475.59,135.34 476.78,137.83 477.97,139.32 479.16,138.71 480.35,135.35 481.54,133.93 482.73,136.03 483.92,137.47 485.11,138.43 486.30,139.66 487.49,140.75 488.68,141.29 489.87,142.33 491.06,142.67 492.25,140.95 493.44,140.34 494.62,141.13 495.81,141.45 497.00,142.55 498.19,142.80 499.38,142.01 500.57,142.22 501.76,143.02 502.95,143.24 504.14,142.16 505.33,141.91 506.52,143.13 507.71,142.33 508.90,140.85 510.09,139.99 511.28,141.77 512.47,143.40 513.66,140.30 514.85,137.48 516.04,137.54 517.23,136.48 518.42,135.18 519.61,133.70 520.80,131.41 521.99,129.65 523.18,131.01 524.36,135.76 525.55,138.13 526.74,135.35 527.93,134.41 529.12,138.24 530.31,141.78 531.50,142.07 532.69,141.99 533.88,144.28 535.07,146.62 536.26,148.85 537.45,150.25" fill="none" stroke="#3d9edc" stroke-width="0.9" stroke-linejoin="round"/>
<polyline points="394.70,150.25 395.89,150.06 397.08,149.58 398.27,148.52 399.46,148.71 400.65,149.87 401.84,149.99 403.03,149.46 404.22,149.35 405.41,148.69 406.60,147.62 407.79,148.26 408.98,148.31 410.16,146.00 411.35,144.70 412.54,145.15 413.73,142.57 414.92,138.97 416.11,139.11 417.30,137.46 418.49,127.39 419.68,115.82 420.87,110.08 422.06,108.61 423.25,104.90 424.44,97.55 425.63,88.65 426.82,82.77 428.01,72.93 429.20,63.20 430.39,57.81 431.58,53.85 432.77,55.50 433.96,54.53 435.15,52.57 436.34,52.48 437.52,50.02 438.71,53.00 439.90,50.71 441.09,38.90 442.28,39.77 443.47,48.55 444.66,50.89 445.85,48.08 447.04,44.03 448.23,40.04 449.42,35.97 450.61,34.42 451.80,37.81 452.99,40.81 454.18,44.68 455.37,50.82 456.56,54.86 457.75,56.79 458.94,63.10 460.13,74.31 461.32,82.91 462.51,84.46 463.70,84.89 464.89,87.49 466.08,91.63 467.26,99.23 468.45,108.23 469.64,116.13 470.83,119.46 472.02,119.76 473.21,119.92 474.40,121.67 475.59,125.31 476.78,126.55 477.97,127.35 479.16,129.59 480.35,131.05 481.54,132.11 482.73,134.23 483.92,135.92 485.11,137.55 486.30,139.64 487.49,141.05 488.68,140.92 489.87,140.52 491.06,142.37 492.25,142.94 493.44,141.01 494.62,140.31 495.81,140.36 497.00,141.16 498.19,143.96 499.38,145.84 500.57,143.94 501.76,141.99 502.95,142.30 504.14,142.01 505.33,141.64 506.52,142.39 507.71,142.39 508.90,140.42 510.09,139.20 511.28,139.07 512.47,138.81 513.66,138.36 514.85,137.64 516.04,137.77 517.23,139.31 518.42,137.91 519.61,134.53 520.80,133.91 521.99,134.31 523.18,133.37 524.36,133.50 525.55,134.57 526.74,135.53 527.93,137.13 529.12,136.92 530.31,135.59 531.50,137.42 532.69,140.35 533.88,141.90 535.07,143.78 536.26,146.21 537.45,148.26" fill="none" stroke="#f6cc58" stroke-width="0.9" stroke-linejoin="round"/>
<polyline points="394.70,150.25 395.89,150.25 397.08,150.25 398.27,150.24 399.46,149.81 400.65,149.90 401.84,150.25 403.03,149.22 404.22,147.74 405.41,146.95 406.60,146.60 407.79,146.05 408.98,144.60 410.16,143.33 411.35,142.12 412.54,138.95 413.73,135.15 414.92,133.16 416.11,133.16 417.30,126.80 418.49,119.44 419.68,114.10 420.87,106.25 422.06,95.85 423.25,88.12 424.44,81.68 425.63,78.90 426.82,74.38 428.01,67.87 429.20,59.13 430.39,50.02 431.58,50.63 432.77,53.47 433.96,56.66 435.15,58.57 436.34,56.59 437.52,52.87 438.71,51.00 439.90,53.23 441.09,56.27 442.28,55.41 443.47,49.82 444.66,44.18 445.85,42.40 447.04,43.55 448.23,45.28 449.42,43.60 450.61,43.08 451.80,45.89 452.99,50.93 454.18,53.33 455.37,57.44 456.56,63.72 457.75,67.63 458.94,71.32 460.13,76.88 461.32,81.66 462.51,87.52 463.70,96.22 464.89,103.41 466.08,103.10 467.26,104.97 468.45,115.17 469.64,122.16 470.83,121.89 472.02,121.70 473.21,125.22 474.40,129.93 475.59,130.04 476.78,129.11 477.97,128.41 479.16,128.13 480.35,130.74 481.54,133.87 482.73,135.86 483.92,138.36 485.11,139.89 486.30,139.18 487.49,140.02 488.68,142.56 489.87,143.34 491.06,142.30 492.25,141.89 493.44,141.90 494.62,141.73 495.81,141.27 497.00,142.20 498.19,143.12 499.38,140.85 500.57,139.98 501.76,141.55 502.95,141.37 504.14,141.54 505.33,142.35 506.52,141.25 507.71,139.76 508.90,139.14 510.09,138.80 511.28,139.36 512.47,139.63 513.66,139.65 514.85,138.91 516.04,136.30 517.23,133.36 518.42,134.74 519.61,136.54 520.80,135.32 521.99,136.94 523.18,139.51 524.36,137.92 525.55,136.86 526.74,136.61 527.93,138.15 529.12,139.92 530.31,140.33 531.50,142.49 532.69,143.46 533.88,143.79 535.07,145.05 536.26,147.33 537.45,150.12" fill="none" stroke="#4ed8aa" stroke-width="0.9" stroke-linejoin="round"/>
<polyline points="394.70,150.25 395.89,150.25 397.08,150.25 398.27,150.25 399.46,149.41 400.65,148.06 401.84,148.01 403.03,149.07 404.22,149.35 405.41,148.97 406.60,148.72 407.79,146.37 408.98,142.31 410.16,139.91 411.35,138.00 412.54,134.68 413.73,132.53 414.92,131.16 416.11,126.93 417.30,120.47 418.49,114.38 419.68,108.93 420.87,102.96 422.06,95.79 423.25,91.08 424.44,87.45 425.63,80.46 426.82,76.70 428.01,72.68 429.20,59.49 430.39,46.37 431.58,40.77 432.77,43.70 433.96,47.34 435.15,42.43 436.34,42.38 437.52,46.61 438.71,41.67 439.90,38.30 441.09,40.74 442.28,42.63 443.47,41.71 444.66,41.08 445.85,45.59 447.04,48.73 448.23,47.80 449.42,50.34 450.61,51.40 451.80,46.63 452.99,46.40 454.18,50.52 455.37,55.39 456.56,60.88 457.75,65.49 458.94,70.56 460.13,74.57 461.32,77.18 462.51,82.38 463.70,86.00 464.89,90.16 466.08,101.43 467.26,109.24 468.45,111.69 469.64,117.53 470.83,123.69 472.02,126.24 473.21,127.17 474.40,128.07 475.59,129.26 476.78,129.47 477.97,130.66 479.16,133.11 480.35,133.99 481.54,136.42 482.73,139.25 483.92,138.69 485.11,137.07 486.30,137.18 487.49,138.79 488.68,141.36 489.87,143.22 491.06,141.67 492.25,140.61 493.44,141.59 494.62,141.87 495.81,141.55 497.00,141.14 498.19,142.52 499.38,144.03 500.57,141.58 501.76,138.80 502.95,139.62 504.14,140.93 505.33,141.10 506.52,140.58 507.71,140.28 508.90,139.94 510.09,139.77 511.28,140.34 512.47,139.08 513.66,137.14 514.85,137.45 516.04,137.01 517.23,135.18 518.42,135.01 519.61,134.89 520.80,133.73 521.99,133.10 523.18,133.81 524.36,134.08 525.55,132.34 526.74,132.36 527.93,135.47 529.12,138.06 530.31,139.90 531.50,140.66 532.69,141.52 533.88,144.82 535.07,148.29 536.26,150.25 537.45,150.25" fill="none" stroke="#b0b0e4" stroke-width="0.9" stroke-linejoin="round"/>
<polyline points="394.70,150.25 395.89,149.11 397.08,150.19 398.27,150.25 399.46,150.00 400.65,150.07 401.84,149.93 403.03,149.05 404.22,148.82 405.41,148.38 406.60,147.36 407.79,145.01 408.98,143.67 410.16,143.63 411.35,142.15 412.54,138.76 413.73,135.19 414.92,132.37 416.11,130.95 417.30,126.93 418.49,121.65 419.68,116.19 420.87,107.29 422.06,98.07 423.25,93.48 424.44,90.87 425.63,84.37 426.82,76.13 428.01,74.07 429.20,73.19 430.39,69.39 431.58,66.21 432.77,65.41 433.96,66.16 435.15,63.62 436.34,59.01 437.52,56.36 438.71,55.76 439.90,55.13 441.09,53.79 442.28,52.21 443.47,50.62 444.66,43.52 445.85,36.08 447.04,40.79 448.23,45.82 449.42,43.88 450.61,41.25 451.80,36.46 452.99,32.42 454.18,35.55 455.37,50.38 456.56,63.17 457.75,66.67 458.94,72.88 460.13,82.29 461.32,88.06 462.51,91.36 463.70,94.89 464.89,97.53 466.08,102.03 467.26,108.29 468.45,111.83 469.64,115.22 470.83,118.86 472.02,121.31 473.21,124.50 474.40,127.30 475.59,127.27 476.78,127.72 477.97,130.22 479.16,132.28 480.35,134.55 481.54,136.22 482.73,136.49 483.92,137.82 485.11,138.63 486.30,139.19 487.49,139.94 488.68,140.54 489.87,141.88 491.06,144.22 492.25,145.13 493.44,143.46 494.62,143.30 495.81,144.24 497.00,142.79 498.19,141.14 499.38,142.20 500.57,143.66 501.76,143.25 502.95,141.86 504.14,143.79 505.33,144.03 506.52,140.59 507.71,140.25 508.90,139.73 510.09,138.75 511.28,139.73 512.47,140.13 513.66,138.65 514.85,137.17 516.04,137.48 517.23,136.35 518.42,134.75 519.61,135.21 520.80,134.32 521.99,131.64 523.18,132.29 524.36,134.95 525.55,137.17 526.74,137.25 527.93,135.25 529.12,137.53 530.31,142.43 531.50,142.73 532.69,140.17 533.88,139.67 535.07,142.21 536.26,145.66 537.45,148.98" fill="none" stroke="#f8924e" stroke-width="0.9" stroke-linejoin="round"/>
<polyline points="394.70,150.25 395.89,149.38 397.08,149.44 398.27,148.77 399.46,148.94 400.65,149.18 401.84,148.13 403.03,148.11 404.22,148.33 405.41,146.81 406.60,145.91 407.79,147.26 408.98,146.50 410.16,142.56 411.35,137.55 412.54,135.53 413.73,134.79 414.92,131.01 416.11,123.60 417.30,118.59 418.49,110.72 419.68,101.32 420.87,97.02 422.06,95.31 423.25,83.77 424.44,72.09 425.63,70.28 426.82,67.67 428.01,62.02 429.20,58.22 430.39,54.88 431.58,56.56 432.77,61.21 433.96,61.29 435.15,59.41 436.34,57.73 437.52,62.42 438.71,65.87 439.90,62.86 441.09,56.35 442.28,50.00 443.47,49.45 444.66,48.10 445.85,46.40 447.04,51.29 448.23,54.40 449.42,51.93 450.61,44.66 451.80,43.11 452.99,49.85 454.18,58.70 455.37,64.00 456.56,65.65 457.75,68.58 458.94,77.55 460.13,84.80 461.32,91.06 462.51,99.19 463.70,103.57 464.89,102.97 466.08,103.65 467.26,108.81 468.45,115.30 469.64,120.41 470.83,124.63 472.02,126.83 473.21,126.03 474.40,124.89 475.59,129.59 476.78,132.55 477.97,132.15 479.16,133.59 480.35,134.86 481.54,135.97 482.73,134.22 483.92,132.88 485.11,137.47 486.30,140.51 487.49,140.25 488.68,141.32 489.87,142.41 491.06,142.28 492.25,140.52 493.44,140.38 494.62,142.78 495.81,142.36 497.00,140.72 498.19,141.61 499.38,141.14 500.57,141.15 501.76,141.80 502.95,141.29 504.14,142.20 505.33,143.32 506.52,141.99 507.71,139.83 508.90,138.77 510.09,138.57 511.28,137.97 512.47,135.54 513.66,133.16 514.85,134.29 516.04,135.20 517.23,132.89 518.42,129.43 519.61,129.18 520.80,131.87 521.99,133.65 523.18,130.56 524.36,127.78 525.55,128.86 526.74,132.21 527.93,136.54 529.12,139.61 530.31,142.26 531.50,142.65 532.69,142.06 533.88,143.32 535.07,145.70 536.26,149.99 537.45,150.25" fill="none" stroke="#178c82" stroke-width="0.9" stroke-linejoin="round"/>
</g>
<rect x="394.7" y="10.45" width="142.75000000000006" height="139.8" fill="none" stroke="#333" stroke-width="1.1"/>
<line x1="394.70" y1="150.25" x2="394.70" y2="152.45" stroke="#333" stroke-width="0.8"/>
<text x="394.70" y="160.55" font-size="7.6" text-anchor="middle" font-weight="normal" >60</text>
<line x1="406.60" y1="150.25" x2="406.60" y2="151.55" stroke="#333" stroke-width="0.8"/>
<line x1="418.49" y1="150.25" x2="418.49" y2="152.45" stroke="#333" stroke-width="0.8"/>
<text x="418.49" y="160.55" font-size="7.6" text-anchor="middle" font-weight="normal" >80</text>
<line x1="430.39" y1="150.25" x2="430.39" y2="151.55" stroke="#333" stroke-width="0.8"/>
<line x1="442.28" y1="150.25" x2="442.28" y2="152.45" stroke="#333" stroke-width="0.8"/>
<text x="442.28" y="160.55" font-size="7.6" text-anchor="middle" font-weight="normal" >100</text>
<line x1="454.18" y1="150.25" x2="454.18" y2="151.55" stroke="#333" stroke-width="0.8"/>
<line x1="466.08" y1="150.25" x2="466.08" y2="152.45" stroke="#333" stroke-width="0.8"/>
<text x="466.08" y="160.55" font-size="7.6" text-anchor="middle" font-weight="normal" >120</text>
<line x1="477.97" y1="150.25" x2="477.97" y2="151.55" stroke="#333" stroke-width="0.8"/>
<line x1="489.87" y1="150.25" x2="489.87" y2="152.45" stroke="#333" stroke-width="0.8"/>
<text x="489.87" y="160.55" font-size="7.6" text-anchor="middle" font-weight="normal" >140</text>
<line x1="501.76" y1="150.25" x2="501.76" y2="151.55" stroke="#333" stroke-width="0.8"/>
<line x1="513.66" y1="150.25" x2="513.66" y2="152.45" stroke="#333" stroke-width="0.8"/>
<text x="513.66" y="160.55" font-size="7.6" text-anchor="middle" font-weight="normal" >160</text>
<line x1="525.55" y1="150.25" x2="525.55" y2="151.55" stroke="#333" stroke-width="0.8"/>
<line x1="537.45" y1="150.25" x2="537.45" y2="152.45" stroke="#333" stroke-width="0.8"/>
<text x="537.45" y="160.55" font-size="7.6" text-anchor="middle" font-weight="normal" >180</text>
<line x1="392.5" y1="150.25" x2="394.7" y2="150.25" stroke="#333" stroke-width="0.8"/>
<text x="390.40" y="152.85" font-size="7.6" text-anchor="end" font-weight="normal" >0.00</text>
<line x1="392.5" y1="110.31" x2="394.7" y2="110.31" stroke="#333" stroke-width="0.8"/>
<text x="390.40" y="112.91" font-size="7.6" text-anchor="end" font-weight="normal" >0.01</text>
<line x1="392.5" y1="70.36" x2="394.7" y2="70.36" stroke="#333" stroke-width="0.8"/>
<text x="390.40" y="72.96" font-size="7.6" text-anchor="end" font-weight="normal" >0.02</text>
<line x1="392.5" y1="30.42" x2="394.7" y2="30.42" stroke="#333" stroke-width="0.8"/>
<text x="390.40" y="33.02" font-size="7.6" text-anchor="end" font-weight="normal" >0.03</text>
<line x1="393.4" y1="130.28" x2="394.7" y2="130.28" stroke="#333" stroke-width="0.7"/>
<line x1="393.4" y1="90.34" x2="394.7" y2="90.34" stroke="#333" stroke-width="0.7"/>
<line x1="393.4" y1="50.39" x2="394.7" y2="50.39" stroke="#333" stroke-width="0.7"/>
<text x="466.08" y="171.30" font-size="8.5" text-anchor="middle" font-weight="normal" >Angle (°)</text>
<text transform="translate(374.20,80.65) rotate(-90)" font-size="8.65" text-anchor="middle">O-V<tspan font-size="5.8" dy="-3.3">5+</tspan><tspan dy="3.3">-O BAD (arb. unit)</tspan></text>
<line x1="138.3" y1="16.50" x2="153.4" y2="16.50" stroke="#f25c5c" stroke-width="1.4"/>
<text x="155.00" y="18.80" font-size="6.5" text-anchor="start" font-weight="normal" >Raw slag</text>
<line x1="138.3" y1="24.57" x2="153.4" y2="24.57" stroke="#3d9edc" stroke-width="1.4"/>
<text x="155.00" y="26.87" font-size="6.5" text-anchor="start" font-weight="normal" >0.25Ca/V</text>
<line x1="138.3" y1="32.64" x2="153.4" y2="32.64" stroke="#f6cc58" stroke-width="1.4"/>
<text x="155.00" y="34.94" font-size="6.5" text-anchor="start" font-weight="normal" >0.50Ca/V</text>
<line x1="138.3" y1="40.71" x2="153.4" y2="40.71" stroke="#4ed8aa" stroke-width="1.4"/>
<text x="155.00" y="43.01" font-size="6.5" text-anchor="start" font-weight="normal" >0.75Ca/V</text>
<line x1="138.3" y1="48.78" x2="153.4" y2="48.78" stroke="#b0b0e4" stroke-width="1.4"/>
<text x="155.00" y="51.08" font-size="6.5" text-anchor="start" font-weight="normal" >1.0Ca/V</text>
<line x1="138.3" y1="56.85" x2="153.4" y2="56.85" stroke="#f8924e" stroke-width="1.4"/>
<text x="155.00" y="59.15" font-size="6.5" text-anchor="start" font-weight="normal" >1.25Ca/V</text>
<line x1="138.3" y1="64.92" x2="153.4" y2="64.92" stroke="#178c82" stroke-width="1.4"/>
<text x="155.00" y="67.22" font-size="6.5" text-anchor="start" font-weight="normal" >1.5Ca/V</text>
<line x1="66.1" y1="32.2" x2="64.35" y2="25.05" stroke="#e81010" stroke-width="1.3"/>
<line x1="64.35" y1="25.05" x2="62.6" y2="17.9" stroke="#9a9a9a" stroke-width="1.1"/>
<line x1="66.1" y1="32.2" x2="73.05" y2="32.40" stroke="#e81010" stroke-width="1.3"/>
<line x1="73.05" y1="32.40" x2="80" y2="32.6" stroke="#9a9a9a" stroke-width="1.1"/>
<line x1="66.1" y1="32.2" x2="61.00" y2="34.75" stroke="#e81010" stroke-width="1.3"/>
<line x1="61.00" y1="34.75" x2="55.9" y2="37.3" stroke="#9a9a9a" stroke-width="1.1"/>
<line x1="66.1" y1="32.2" x2="66.10" y2="36.05" stroke="#e81010" stroke-width="1.3"/>
<line x1="66.10" y1="36.05" x2="66.1" y2="39.9" stroke="#9a9a9a" stroke-width="1.1"/>
<circle cx="66.1" cy="32.2" r="3.8" fill="url(#ball)"/>
<circle cx="62.6" cy="17.9" r="1.8" fill="#fff" stroke="#777" stroke-width="0.8"/>
<circle cx="80" cy="32.6" r="1.8" fill="#fff" stroke="#777" stroke-width="0.8"/>
<circle cx="55.9" cy="37.3" r="1.8" fill="#fff" stroke="#777" stroke-width="0.8"/>
<circle cx="66.1" cy="39.9" r="1.8" fill="#fff" stroke="#777" stroke-width="0.8"/>
<text x="45.00" y="47.60" font-size="6.6" text-anchor="start" font-weight="normal" >Tetrahedral: 109°</text>
<line x1="150.2" y1="87.5" x2="149.70" y2="80.25" stroke="#e81010" stroke-width="1.3"/>
<line x1="149.70" y1="80.25" x2="149.2" y2="73" stroke="#9a9a9a" stroke-width="1.1"/>
<line x1="150.2" y1="87.5" x2="158.00" y2="87.25" stroke="#e81010" stroke-width="1.3"/>
<line x1="158.00" y1="87.25" x2="165.8" y2="87" stroke="#9a9a9a" stroke-width="1.1"/>
<line x1="150.2" y1="87.5" x2="150.60" y2="95.05" stroke="#e81010" stroke-width="1.3"/>
<line x1="150.60" y1="95.05" x2="151" y2="102.6" stroke="#9a9a9a" stroke-width="1.1"/>
<line x1="150.2" y1="87.5" x2="146.70" y2="85.75" stroke="#e81010" stroke-width="1.3"/>
<line x1="146.70" y1="85.75" x2="143.2" y2="84" stroke="#9a9a9a" stroke-width="1.1"/>
<line x1="150.2" y1="87.5" x2="145.50" y2="89.80" stroke="#e81010" stroke-width="1.3"/>
<line x1="145.50" y1="89.80" x2="140.8" y2="92.1" stroke="#9a9a9a" stroke-width="1.1"/>
<circle cx="150.2" cy="87.5" r="3.5" fill="url(#ball)"/>
<circle cx="149.2" cy="73" r="1.6" fill="#fff" stroke="#777" stroke-width="0.8"/>
<circle cx="165.8" cy="87" r="1.6" fill="#fff" stroke="#777" stroke-width="0.8"/>
<circle cx="151" cy="102.6" r="1.6" fill="#fff" stroke="#777" stroke-width="0.8"/>
<circle cx="143.2" cy="84" r="1.6" fill="#fff" stroke="#777" stroke-width="0.8"/>
<circle cx="140.8" cy="92.1" r="1.6" fill="#fff" stroke="#777" stroke-width="0.8"/>
<text x="126.00" y="113.60" font-size="6.6" text-anchor="start" font-weight="normal" >Trigonal bipyramidal:</text>
<text x="137.60" y="121.70" font-size="6.6" text-anchor="start" font-weight="normal" >90° and 120°</text>
<line x1="321.8" y1="46.1" x2="320.25" y2="39.05" stroke="#e81010" stroke-width="1.3"/>
<line x1="320.25" y1="39.05" x2="318.7" y2="32" stroke="#9a9a9a" stroke-width="1.1"/>
<line x1="321.8" y1="46.1" x2="328.50" y2="46.45" stroke="#e81010" stroke-width="1.3"/>
<line x1="328.50" y1="46.45" x2="335.2" y2="46.8" stroke="#9a9a9a" stroke-width="1.1"/>
<line x1="321.8" y1="46.1" x2="316.85" y2="49.45" stroke="#e81010" stroke-width="1.3"/>
<line x1="316.85" y1="49.45" x2="311.9" y2="52.8" stroke="#9a9a9a" stroke-width="1.1"/>
<line x1="321.8" y1="46.1" x2="321.90" y2="50.00" stroke="#e81010" stroke-width="1.3"/>
<line x1="321.90" y1="50.00" x2="322" y2="53.9" stroke="#9a9a9a" stroke-width="1.1"/>
<circle cx="321.8" cy="46.1" r="3.5" fill="url(#ball)"/>
<circle cx="318.7" cy="32" r="1.6" fill="#fff" stroke="#777" stroke-width="0.8"/>
<circle cx="335.2" cy="46.8" r="1.6" fill="#fff" stroke="#777" stroke-width="0.8"/>
<circle cx="311.9" cy="52.8" r="1.6" fill="#fff" stroke="#777" stroke-width="0.8"/>
<circle cx="322" cy="53.9" r="1.6" fill="#fff" stroke="#777" stroke-width="0.8"/>
<text x="302.40" y="64.00" font-size="6.6" text-anchor="start" font-weight="normal" >Tetrahedral: 109°</text>
<line x1="505" y1="34.3" x2="503.40" y2="27.25" stroke="#e81010" stroke-width="1.3"/>
<line x1="503.40" y1="27.25" x2="501.8" y2="20.2" stroke="#9a9a9a" stroke-width="1.1"/>
<line x1="505" y1="34.3" x2="511.85" y2="34.65" stroke="#e81010" stroke-width="1.3"/>
<line x1="511.85" y1="34.65" x2="518.7" y2="35" stroke="#9a9a9a" stroke-width="1.1"/>
<line x1="505" y1="34.3" x2="499.85" y2="37.10" stroke="#e81010" stroke-width="1.3"/>
<line x1="499.85" y1="37.10" x2="494.7" y2="39.9" stroke="#9a9a9a" stroke-width="1.1"/>
<line x1="505" y1="34.3" x2="505.00" y2="38.05" stroke="#e81010" stroke-width="1.3"/>
<line x1="505.00" y1="38.05" x2="505" y2="41.8" stroke="#9a9a9a" stroke-width="1.1"/>
<circle cx="505" cy="34.3" r="3.8" fill="url(#ball)"/>
<circle cx="501.8" cy="20.2" r="1.7" fill="#fff" stroke="#777" stroke-width="0.8"/>
<circle cx="518.7" cy="35" r="1.7" fill="#fff" stroke="#777" stroke-width="0.8"/>
<circle cx="494.7" cy="39.9" r="1.7" fill="#fff" stroke="#777" stroke-width="0.8"/>
<circle cx="505" cy="41.8" r="1.7" fill="#fff" stroke="#777" stroke-width="0.8"/>
<text x="485.30" y="52.60" font-size="6.6" text-anchor="start" font-weight="normal" >Tetrahedral: 109°</text>
<line x1="510.3" y1="83.5" x2="510.30" y2="77.25" stroke="#e81010" stroke-width="1.3"/>
<line x1="510.30" y1="77.25" x2="510.3" y2="71" stroke="#9a9a9a" stroke-width="1.1"/>
<line x1="510.3" y1="83.5" x2="510.10" y2="90.10" stroke="#e81010" stroke-width="1.3"/>
<line x1="510.10" y1="90.10" x2="509.9" y2="96.7" stroke="#9a9a9a" stroke-width="1.1"/>
<line x1="510.3" y1="83.5" x2="505.05" y2="81.40" stroke="#e81010" stroke-width="1.3"/>
<line x1="505.05" y1="81.40" x2="499.8" y2="79.3" stroke="#9a9a9a" stroke-width="1.1"/>
<line x1="510.3" y1="83.5" x2="515.15" y2="81.65" stroke="#e81010" stroke-width="1.3"/>
<line x1="515.15" y1="81.65" x2="520" y2="79.8" stroke="#9a9a9a" stroke-width="1.1"/>
<line x1="510.3" y1="83.5" x2="505.25" y2="85.70" stroke="#e81010" stroke-width="1.3"/>
<line x1="505.25" y1="85.70" x2="500.2" y2="87.9" stroke="#9a9a9a" stroke-width="1.1"/>
<line x1="510.3" y1="83.5" x2="515.55" y2="85.70" stroke="#e81010" stroke-width="1.3"/>
<line x1="515.55" y1="85.70" x2="520.8" y2="87.9" stroke="#9a9a9a" stroke-width="1.1"/>
<circle cx="510.3" cy="83.5" r="3.7" fill="url(#ball)"/>
<circle cx="510.3" cy="71" r="1.6" fill="#fff" stroke="#777" stroke-width="0.8"/>
<circle cx="509.9" cy="96.7" r="1.6" fill="#fff" stroke="#777" stroke-width="0.8"/>
<circle cx="499.8" cy="79.3" r="1.6" fill="#fff" stroke="#777" stroke-width="0.8"/>
<circle cx="520" cy="79.8" r="1.6" fill="#fff" stroke="#777" stroke-width="0.8"/>
<circle cx="500.2" cy="87.9" r="1.6" fill="#fff" stroke="#777" stroke-width="0.8"/>
<circle cx="520.8" cy="87.9" r="1.6" fill="#fff" stroke="#777" stroke-width="0.8"/>
<text x="492.70" y="107.60" font-size="6.6" text-anchor="start" font-weight="normal" >Octahedral:</text>
<text x="492.70" y="116.10" font-size="6.6" text-anchor="start" font-weight="normal" >90° and 180°</text>
<line x1="444.6" y1="121.3" x2="445.45" y2="114.35" stroke="#e81010" stroke-width="1.3"/>
<line x1="445.45" y1="114.35" x2="446.3" y2="107.4" stroke="#9a9a9a" stroke-width="1.1"/>
<line x1="444.6" y1="121.3" x2="437.60" y2="121.50" stroke="#e81010" stroke-width="1.3"/>
<line x1="437.60" y1="121.50" x2="430.6" y2="121.7" stroke="#9a9a9a" stroke-width="1.1"/>
<line x1="444.6" y1="121.3" x2="451.40" y2="122.00" stroke="#e81010" stroke-width="1.3"/>
<line x1="451.40" y1="122.00" x2="458.2" y2="122.7" stroke="#9a9a9a" stroke-width="1.1"/>
<line x1="444.6" y1="121.3" x2="441.50" y2="118.95" stroke="#e81010" stroke-width="1.3"/>
<line x1="441.50" y1="118.95" x2="438.4" y2="116.6" stroke="#9a9a9a" stroke-width="1.1"/>
<line x1="444.6" y1="121.3" x2="447.15" y2="124.70" stroke="#e81010" stroke-width="1.3"/>
<line x1="447.15" y1="124.70" x2="449.7" y2="128.1" stroke="#9a9a9a" stroke-width="1.1"/>
<circle cx="444.6" cy="121.3" r="3.7" fill="url(#ball)"/>
<circle cx="446.3" cy="107.4" r="1.6" fill="#fff" stroke="#777" stroke-width="0.8"/>
<circle cx="430.6" cy="121.7" r="1.6" fill="#fff" stroke="#777" stroke-width="0.8"/>
<circle cx="458.2" cy="122.7" r="1.6" fill="#fff" stroke="#777" stroke-width="0.8"/>
<circle cx="438.4" cy="116.6" r="1.6" fill="#fff" stroke="#777" stroke-width="0.8"/>
<circle cx="449.7" cy="128.1" r="1.6" fill="#fff" stroke="#777" stroke-width="0.8"/>
<text x="424.10" y="136.50" font-size="6.6" text-anchor="start" font-weight="normal" >Square pyramidal:</text>
<text x="424.10" y="143.40" font-size="6.6" text-anchor="start" font-weight="normal" >90° and 180°</text>
<text x="6.60" y="25.80" font-size="13" text-anchor="start" font-weight="bold" >(a)</text>
<text x="6.60" y="193.80" font-size="13" text-anchor="start" font-weight="bold" >(b)</text>
<rect x="38.65" y="214.06" width="11.4" height="107.24" fill="#2887c6" stroke="#24577a" stroke-width="0.6"/>
<rect x="46.95" y="311.00" width="11.4" height="10.30" fill="#5c8f2a" stroke="#2e4a14" stroke-width="0.6"/>
<rect x="60.34" y="215.19" width="11.4" height="106.11" fill="#2887c6" stroke="#24577a" stroke-width="0.6"/>
<rect x="68.64" y="309.87" width="11.4" height="11.43" fill="#5c8f2a" stroke="#2e4a14" stroke-width="0.6"/>
<rect x="82.03" y="217.59" width="11.4" height="103.71" fill="#2887c6" stroke="#24577a" stroke-width="0.6"/>
<rect x="90.33" y="309.87" width="11.4" height="11.43" fill="#5c8f2a" stroke="#2e4a14" stroke-width="0.6"/>
<rect x="103.73" y="213.08" width="11.4" height="108.22" fill="#2887c6" stroke="#24577a" stroke-width="0.6"/>
<rect x="112.03" y="312.27" width="11.4" height="9.03" fill="#5c8f2a" stroke="#2e4a14" stroke-width="0.6"/>
<rect x="125.42" y="214.06" width="11.4" height="107.24" fill="#2887c6" stroke="#24577a" stroke-width="0.6"/>
<rect x="133.72" y="309.31" width="11.4" height="11.99" fill="#5c8f2a" stroke="#2e4a14" stroke-width="0.6"/>
<rect x="147.11" y="214.77" width="11.4" height="106.53" fill="#2887c6" stroke="#24577a" stroke-width="0.6"/>
<rect x="155.41" y="310.72" width="11.4" height="10.58" fill="#5c8f2a" stroke="#2e4a14" stroke-width="0.6"/>
<rect x="168.80" y="216.18" width="11.4" height="105.12" fill="#2887c6" stroke="#24577a" stroke-width="0.6"/>
<rect x="177.10" y="310.72" width="11.4" height="10.58" fill="#5c8f2a" stroke="#2e4a14" stroke-width="0.6"/>
<rect x="37.6" y="180.2" width="151.85" height="141.10000000000002" fill="none" stroke="#333" stroke-width="1.1"/>
<line x1="48.45" y1="321.3" x2="48.45" y2="323.5" stroke="#333" stroke-width="0.8"/>
<text x="48.45" y="331.60" font-size="7.6" text-anchor="middle" font-weight="normal" >0.11</text>
<line x1="59.29" y1="321.3" x2="59.29" y2="322.6" stroke="#333" stroke-width="0.7"/>
<line x1="70.14" y1="321.3" x2="70.14" y2="323.5" stroke="#333" stroke-width="0.8"/>
<text x="70.14" y="331.60" font-size="7.6" text-anchor="middle" font-weight="normal" >0.25</text>
<line x1="80.99" y1="321.3" x2="80.99" y2="322.6" stroke="#333" stroke-width="0.7"/>
<line x1="91.83" y1="321.3" x2="91.83" y2="323.5" stroke="#333" stroke-width="0.8"/>
<text x="91.83" y="331.60" font-size="7.6" text-anchor="middle" font-weight="normal" >0.5</text>
<line x1="102.68" y1="321.3" x2="102.68" y2="322.6" stroke="#333" stroke-width="0.7"/>
<line x1="113.53" y1="321.3" x2="113.53" y2="323.5" stroke="#333" stroke-width="0.8"/>
<text x="113.53" y="331.60" font-size="7.6" text-anchor="middle" font-weight="normal" >0.75</text>
<line x1="124.37" y1="321.3" x2="124.37" y2="322.6" stroke="#333" stroke-width="0.7"/>
<line x1="135.22" y1="321.3" x2="135.22" y2="323.5" stroke="#333" stroke-width="0.8"/>
<text x="135.22" y="331.60" font-size="7.6" text-anchor="middle" font-weight="normal" >1</text>
<line x1="146.06" y1="321.3" x2="146.06" y2="322.6" stroke="#333" stroke-width="0.7"/>
<line x1="156.91" y1="321.3" x2="156.91" y2="323.5" stroke="#333" stroke-width="0.8"/>
<text x="156.91" y="331.60" font-size="7.6" text-anchor="middle" font-weight="normal" >1.25</text>
<line x1="167.76" y1="321.3" x2="167.76" y2="322.6" stroke="#333" stroke-width="0.7"/>
<line x1="178.60" y1="321.3" x2="178.60" y2="323.5" stroke="#333" stroke-width="0.8"/>
<text x="178.60" y="331.60" font-size="7.6" text-anchor="middle" font-weight="normal" >1.5</text>
<line x1="35.4" y1="321.30" x2="37.6" y2="321.30" stroke="#333" stroke-width="0.8"/>
<text x="33.00" y="323.90" font-size="7.6" text-anchor="end" font-weight="normal" >0</text>
<line x1="36.300000000000004" y1="307.19" x2="37.6" y2="307.19" stroke="#333" stroke-width="0.8"/>
<line x1="35.4" y1="293.08" x2="37.6" y2="293.08" stroke="#333" stroke-width="0.8"/>
<text x="33.00" y="295.68" font-size="7.6" text-anchor="end" font-weight="normal" >20</text>
<line x1="36.300000000000004" y1="278.97" x2="37.6" y2="278.97" stroke="#333" stroke-width="0.8"/>
<line x1="35.4" y1="264.86" x2="37.6" y2="264.86" stroke="#333" stroke-width="0.8"/>
<text x="33.00" y="267.46" font-size="7.6" text-anchor="end" font-weight="normal" >40</text>
<line x1="36.300000000000004" y1="250.75" x2="37.6" y2="250.75" stroke="#333" stroke-width="0.8"/>
<line x1="35.4" y1="236.64" x2="37.6" y2="236.64" stroke="#333" stroke-width="0.8"/>
<text x="33.00" y="239.24" font-size="7.6" text-anchor="end" font-weight="normal" >60</text>
<line x1="36.300000000000004" y1="222.53" x2="37.6" y2="222.53" stroke="#333" stroke-width="0.8"/>
<line x1="35.4" y1="208.42" x2="37.6" y2="208.42" stroke="#333" stroke-width="0.8"/>
<text x="33.00" y="211.02" font-size="7.6" text-anchor="end" font-weight="normal" >80</text>
<line x1="36.300000000000004" y1="194.31" x2="37.6" y2="194.31" stroke="#333" stroke-width="0.8"/>
<line x1="35.4" y1="180.20" x2="37.6" y2="180.20" stroke="#333" stroke-width="0.8"/>
<text x="33.00" y="182.80" font-size="7.6" text-anchor="end" font-weight="normal" >100</text>
<text x="112.45" y="346.00" font-size="8.5" text-anchor="middle" font-weight="normal" >CaO/V<tspan font-size="5.8" dy="2">2</tspan><tspan dy="-2">O</tspan><tspan font-size="5.8" dy="2">5</tspan><tspan dy="-2">(mass%)</tspan></text>
<text transform="translate(21.70,250.45) rotate(-90)" font-size="8.6" text-anchor="middle">Percentage</text>
<rect x="118.4" y="182.5" width="14.5" height="7.2" fill="#2887c6" stroke="#24577a" stroke-width="0.6"/>
<text x="134.3" y="188.6" font-size="7.3">V<tspan font-size="4.2" dy="-2.9">5+</tspan><tspan dy="2.9">O</tspan><tspan font-size="4.6" dy="1.5">4</tspan></text>
<rect x="153.4" y="182.5" width="14.5" height="7.2" fill="#5c8f2a" stroke="#2e4a14" stroke-width="0.6"/>
<text x="169.3" y="188.6" font-size="7.3">V<tspan font-size="4.2" dy="-2.9">3+</tspan><tspan dy="2.9">O</tspan><tspan font-size="4.6" dy="1.5">3</tspan></text>
<rect x="214.16" y="206.59" width="11.4" height="114.71" fill="#fcc98c" stroke="#8a7058" stroke-width="0.6"/>
<rect x="222.46" y="317.77" width="11.4" height="3.53" fill="#6fd89a" stroke="#2f6a45" stroke-width="0.6"/>
<rect x="235.89" y="204.89" width="11.4" height="116.41" fill="#fcc98c" stroke="#8a7058" stroke-width="0.6"/>
<rect x="244.19" y="317.07" width="11.4" height="4.23" fill="#6fd89a" stroke="#2f6a45" stroke-width="0.6"/>
<rect x="257.62" y="205.46" width="11.4" height="115.84" fill="#fcc98c" stroke="#8a7058" stroke-width="0.6"/>
<rect x="265.92" y="317.07" width="11.4" height="4.23" fill="#6fd89a" stroke="#2f6a45" stroke-width="0.6"/>
<rect x="279.35" y="209.41" width="11.4" height="111.89" fill="#fcc98c" stroke="#8a7058" stroke-width="0.6"/>
<rect x="287.65" y="316.64" width="11.4" height="4.66" fill="#6fd89a" stroke="#2f6a45" stroke-width="0.6"/>
<rect x="301.08" y="205.88" width="11.4" height="115.42" fill="#fcc98c" stroke="#8a7058" stroke-width="0.6"/>
<rect x="309.38" y="318.20" width="11.4" height="3.10" fill="#6fd89a" stroke="#2f6a45" stroke-width="0.6"/>
<rect x="322.81" y="208.84" width="11.4" height="112.46" fill="#fcc98c" stroke="#8a7058" stroke-width="0.6"/>
<rect x="331.11" y="316.64" width="11.4" height="4.66" fill="#6fd89a" stroke="#2f6a45" stroke-width="0.6"/>
<rect x="344.54" y="204.47" width="11.4" height="116.83" fill="#fcc98c" stroke="#8a7058" stroke-width="0.6"/>
<rect x="352.84" y="318.48" width="11.4" height="2.82" fill="#6fd89a" stroke="#2f6a45" stroke-width="0.6"/>
<rect x="213.1" y="180.2" width="152.1" height="141.10000000000002" fill="none" stroke="#333" stroke-width="1.1"/>
<line x1="223.96" y1="321.3" x2="223.96" y2="323.5" stroke="#333" stroke-width="0.8"/>
<text x="223.96" y="331.60" font-size="7.6" text-anchor="middle" font-weight="normal" >0.11</text>
<line x1="234.83" y1="321.3" x2="234.83" y2="322.6" stroke="#333" stroke-width="0.7"/>
<line x1="245.69" y1="321.3" x2="245.69" y2="323.5" stroke="#333" stroke-width="0.8"/>
<text x="245.69" y="331.60" font-size="7.6" text-anchor="middle" font-weight="normal" >0.25</text>
<line x1="256.56" y1="321.3" x2="256.56" y2="322.6" stroke="#333" stroke-width="0.7"/>
<line x1="267.42" y1="321.3" x2="267.42" y2="323.5" stroke="#333" stroke-width="0.8"/>
<text x="267.42" y="331.60" font-size="7.6" text-anchor="middle" font-weight="normal" >0.5</text>
<line x1="278.29" y1="321.3" x2="278.29" y2="322.6" stroke="#333" stroke-width="0.7"/>
<line x1="289.15" y1="321.3" x2="289.15" y2="323.5" stroke="#333" stroke-width="0.8"/>
<text x="289.15" y="331.60" font-size="7.6" text-anchor="middle" font-weight="normal" >0.75</text>
<line x1="300.01" y1="321.3" x2="300.01" y2="322.6" stroke="#333" stroke-width="0.7"/>
<line x1="310.88" y1="321.3" x2="310.88" y2="323.5" stroke="#333" stroke-width="0.8"/>
<text x="310.88" y="331.60" font-size="7.6" text-anchor="middle" font-weight="normal" >1</text>
<line x1="321.74" y1="321.3" x2="321.74" y2="322.6" stroke="#333" stroke-width="0.7"/>
<line x1="332.61" y1="321.3" x2="332.61" y2="323.5" stroke="#333" stroke-width="0.8"/>
<text x="332.61" y="331.60" font-size="7.6" text-anchor="middle" font-weight="normal" >1.25</text>
<line x1="343.47" y1="321.3" x2="343.47" y2="322.6" stroke="#333" stroke-width="0.7"/>
<line x1="354.34" y1="321.3" x2="354.34" y2="323.5" stroke="#333" stroke-width="0.8"/>
<text x="354.34" y="331.60" font-size="7.6" text-anchor="middle" font-weight="normal" >1.5</text>
<line x1="210.9" y1="321.30" x2="213.1" y2="321.30" stroke="#333" stroke-width="0.8"/>
<text x="208.50" y="323.90" font-size="7.6" text-anchor="end" font-weight="normal" >0</text>
<line x1="211.79999999999998" y1="307.19" x2="213.1" y2="307.19" stroke="#333" stroke-width="0.8"/>
<line x1="210.9" y1="293.08" x2="213.1" y2="293.08" stroke="#333" stroke-width="0.8"/>
<text x="208.50" y="295.68" font-size="7.6" text-anchor="end" font-weight="normal" >20</text>
<line x1="211.79999999999998" y1="278.97" x2="213.1" y2="278.97" stroke="#333" stroke-width="0.8"/>
<line x1="210.9" y1="264.86" x2="213.1" y2="264.86" stroke="#333" stroke-width="0.8"/>
<text x="208.50" y="267.46" font-size="7.6" text-anchor="end" font-weight="normal" >40</text>
<line x1="211.79999999999998" y1="250.75" x2="213.1" y2="250.75" stroke="#333" stroke-width="0.8"/>
<line x1="210.9" y1="236.64" x2="213.1" y2="236.64" stroke="#333" stroke-width="0.8"/>
<text x="208.50" y="239.24" font-size="7.6" text-anchor="end" font-weight="normal" >60</text>
<line x1="211.79999999999998" y1="222.53" x2="213.1" y2="222.53" stroke="#333" stroke-width="0.8"/>
<line x1="210.9" y1="208.42" x2="213.1" y2="208.42" stroke="#333" stroke-width="0.8"/>
<text x="208.50" y="211.02" font-size="7.6" text-anchor="end" font-weight="normal" >80</text>
<line x1="211.79999999999998" y1="194.31" x2="213.1" y2="194.31" stroke="#333" stroke-width="0.8"/>
<line x1="210.9" y1="180.20" x2="213.1" y2="180.20" stroke="#333" stroke-width="0.8"/>
<text x="208.50" y="182.80" font-size="7.6" text-anchor="end" font-weight="normal" >100</text>
<text x="287.95" y="346.00" font-size="8.5" text-anchor="middle" font-weight="normal" >CaO/V<tspan font-size="5.8" dy="2">2</tspan><tspan dy="-2">O</tspan><tspan font-size="5.8" dy="2">5</tspan><tspan dy="-2">(mass%)</tspan></text>
<text transform="translate(197.20,250.45) rotate(-90)" font-size="8.6" text-anchor="middle">Percentage</text>
<rect x="293.8" y="182.9" width="14.5" height="7.2" fill="#fcc98c" stroke="#8a7058" stroke-width="0.6"/>
<text x="309.7" y="189.0" font-size="7.3">V<tspan font-size="4.2" dy="-2.9">4+</tspan><tspan dy="2.9">O</tspan><tspan font-size="4.6" dy="1.5">4</tspan></text>
<rect x="328.9" y="182.9" width="14.5" height="7.2" fill="#6fd89a" stroke="#2f6a45" stroke-width="0.6"/>
<text x="344.79999999999995" y="189.0" font-size="7.3">V<tspan font-size="4.2" dy="-2.9">4+</tspan><tspan dy="2.9">O</tspan><tspan font-size="4.6" dy="1.5">5</tspan></text>
<rect x="391.38" y="236.92" width="7.8" height="84.38" fill="url(#hT)" stroke="#0c3d38" stroke-width="0.6"/>
<rect x="397.28" y="284.61" width="7.8" height="36.69" fill="url(#hO)" stroke="#6b4010" stroke-width="0.6"/>
<rect x="403.18" y="318.05" width="7.8" height="3.25" fill="url(#hG)" stroke="#3f7a3f" stroke-width="0.6"/>
<rect x="413.14" y="239.46" width="7.8" height="81.84" fill="url(#hT)" stroke="#0c3d38" stroke-width="0.6"/>
<rect x="419.04" y="283.20" width="7.8" height="38.10" fill="url(#hO)" stroke="#6b4010" stroke-width="0.6"/>
<rect x="424.94" y="317.21" width="7.8" height="4.09" fill="url(#hG)" stroke="#3f7a3f" stroke-width="0.6"/>
<rect x="434.89" y="239.89" width="7.8" height="81.41" fill="url(#hT)" stroke="#0c3d38" stroke-width="0.6"/>
<rect x="440.79" y="282.78" width="7.8" height="38.52" fill="url(#hO)" stroke="#6b4010" stroke-width="0.6"/>
<rect x="446.69" y="315.94" width="7.8" height="5.36" fill="url(#hG)" stroke="#3f7a3f" stroke-width="0.6"/>
<rect x="456.65" y="240.03" width="7.8" height="81.27" fill="url(#hT)" stroke="#0c3d38" stroke-width="0.6"/>
<rect x="462.55" y="280.24" width="7.8" height="41.06" fill="url(#hO)" stroke="#6b4010" stroke-width="0.6"/>
<rect x="468.45" y="316.08" width="7.8" height="5.22" fill="url(#hG)" stroke="#3f7a3f" stroke-width="0.6"/>
<rect x="478.41" y="241.01" width="7.8" height="80.29" fill="url(#hT)" stroke="#0c3d38" stroke-width="0.6"/>
<rect x="484.31" y="279.96" width="7.8" height="41.34" fill="url(#hO)" stroke="#6b4010" stroke-width="0.6"/>
<rect x="490.21" y="317.07" width="7.8" height="4.23" fill="url(#hG)" stroke="#3f7a3f" stroke-width="0.6"/>
<rect x="500.16" y="242.43" width="7.8" height="78.87" fill="url(#hT)" stroke="#0c3d38" stroke-width="0.6"/>
<rect x="506.06" y="276.85" width="7.8" height="44.45" fill="url(#hO)" stroke="#6b4010" stroke-width="0.6"/>
<rect x="511.96" y="317.07" width="7.8" height="4.23" fill="url(#hG)" stroke="#3f7a3f" stroke-width="0.6"/>
<rect x="521.92" y="238.33" width="7.8" height="82.97" fill="url(#hT)" stroke="#0c3d38" stroke-width="0.6"/>
<rect x="527.82" y="277.84" width="7.8" height="43.46" fill="url(#hO)" stroke="#6b4010" stroke-width="0.6"/>
<rect x="533.72" y="313.54" width="7.8" height="7.76" fill="url(#hG)" stroke="#3f7a3f" stroke-width="0.6"/>
<rect x="390.3" y="180.2" width="152.3" height="141.10000000000002" fill="none" stroke="#333" stroke-width="1.1"/>
<line x1="401.18" y1="321.3" x2="401.18" y2="323.5" stroke="#333" stroke-width="0.8"/>
<text x="401.18" y="331.60" font-size="7.6" text-anchor="middle" font-weight="normal" >0.11</text>
<line x1="412.06" y1="321.3" x2="412.06" y2="322.6" stroke="#333" stroke-width="0.7"/>
<line x1="422.94" y1="321.3" x2="422.94" y2="323.5" stroke="#333" stroke-width="0.8"/>
<text x="422.94" y="331.60" font-size="7.6" text-anchor="middle" font-weight="normal" >0.25</text>
<line x1="433.81" y1="321.3" x2="433.81" y2="322.6" stroke="#333" stroke-width="0.7"/>
<line x1="444.69" y1="321.3" x2="444.69" y2="323.5" stroke="#333" stroke-width="0.8"/>
<text x="444.69" y="331.60" font-size="7.6" text-anchor="middle" font-weight="normal" >0.5</text>
<line x1="455.57" y1="321.3" x2="455.57" y2="322.6" stroke="#333" stroke-width="0.7"/>
<line x1="466.45" y1="321.3" x2="466.45" y2="323.5" stroke="#333" stroke-width="0.8"/>
<text x="466.45" y="331.60" font-size="7.6" text-anchor="middle" font-weight="normal" >0.75</text>
<line x1="477.33" y1="321.3" x2="477.33" y2="322.6" stroke="#333" stroke-width="0.7"/>
<line x1="488.21" y1="321.3" x2="488.21" y2="323.5" stroke="#333" stroke-width="0.8"/>
<text x="488.21" y="331.60" font-size="7.6" text-anchor="middle" font-weight="normal" >1</text>
<line x1="499.09" y1="321.3" x2="499.09" y2="322.6" stroke="#333" stroke-width="0.7"/>
<line x1="509.96" y1="321.3" x2="509.96" y2="323.5" stroke="#333" stroke-width="0.8"/>
<text x="509.96" y="331.60" font-size="7.6" text-anchor="middle" font-weight="normal" >1.25</text>
<line x1="520.84" y1="321.3" x2="520.84" y2="322.6" stroke="#333" stroke-width="0.7"/>
<line x1="531.72" y1="321.3" x2="531.72" y2="323.5" stroke="#333" stroke-width="0.8"/>
<text x="531.72" y="331.60" font-size="7.6" text-anchor="middle" font-weight="normal" >1.5</text>
<line x1="388.1" y1="321.30" x2="390.3" y2="321.30" stroke="#333" stroke-width="0.8"/>
<text x="385.70" y="323.90" font-size="7.6" text-anchor="end" font-weight="normal" >0</text>
<line x1="389.0" y1="307.19" x2="390.3" y2="307.19" stroke="#333" stroke-width="0.8"/>
<line x1="388.1" y1="293.08" x2="390.3" y2="293.08" stroke="#333" stroke-width="0.8"/>
<text x="385.70" y="295.68" font-size="7.6" text-anchor="end" font-weight="normal" >20</text>
<line x1="389.0" y1="278.97" x2="390.3" y2="278.97" stroke="#333" stroke-width="0.8"/>
<line x1="388.1" y1="264.86" x2="390.3" y2="264.86" stroke="#333" stroke-width="0.8"/>
<text x="385.70" y="267.46" font-size="7.6" text-anchor="end" font-weight="normal" >40</text>
<line x1="389.0" y1="250.75" x2="390.3" y2="250.75" stroke="#333" stroke-width="0.8"/>
<line x1="388.1" y1="236.64" x2="390.3" y2="236.64" stroke="#333" stroke-width="0.8"/>
<text x="385.70" y="239.24" font-size="7.6" text-anchor="end" font-weight="normal" >60</text>
<line x1="389.0" y1="222.53" x2="390.3" y2="222.53" stroke="#333" stroke-width="0.8"/>
<line x1="388.1" y1="208.42" x2="390.3" y2="208.42" stroke="#333" stroke-width="0.8"/>
<text x="385.70" y="211.02" font-size="7.6" text-anchor="end" font-weight="normal" >80</text>
<line x1="389.0" y1="194.31" x2="390.3" y2="194.31" stroke="#333" stroke-width="0.8"/>
<line x1="388.1" y1="180.20" x2="390.3" y2="180.20" stroke="#333" stroke-width="0.8"/>
<text x="385.70" y="182.80" font-size="7.6" text-anchor="end" font-weight="normal" >100</text>
<text x="465.15" y="346.00" font-size="8.5" text-anchor="middle" font-weight="normal" >CaO/V<tspan font-size="5.8" dy="2">2</tspan><tspan dy="-2">O</tspan><tspan font-size="5.8" dy="2">5</tspan><tspan dy="-2">(mass%)</tspan></text>
<text transform="translate(374.40,250.45) rotate(-90)" font-size="8.6" text-anchor="middle">Percentage</text>
<rect x="437.6" y="183.5" width="14.5" height="7.2" fill="url(#hT)" stroke="#0c3d38" stroke-width="0.6"/>
<text x="453.5" y="189.6" font-size="7.3">V<tspan font-size="4.2" dy="-2.9">5+</tspan><tspan dy="2.9">O</tspan><tspan font-size="4.6" dy="1.5">4</tspan></text>
<rect x="472.1" y="183.5" width="14.5" height="7.2" fill="url(#hO)" stroke="#6b4010" stroke-width="0.6"/>
<text x="488.0" y="189.6" font-size="7.3">V<tspan font-size="4.2" dy="-2.9">5+</tspan><tspan dy="2.9">O</tspan><tspan font-size="4.6" dy="1.5">5</tspan></text>
<rect x="507.5" y="183.5" width="14.5" height="7.2" fill="url(#hG)" stroke="#3f7a3f" stroke-width="0.6"/>
<text x="523.4" y="189.6" font-size="7.3">V<tspan font-size="4.2" dy="-2.9">5+</tspan><tspan dy="2.9">O</tspan><tspan font-size="4.6" dy="1.5">6</tspan></text>
<polygon points="416,200.3 406.1,216.9 413,219.8" fill="#a41808" stroke="#7a1a10" stroke-width="0.4"/>
<polygon points="416,200.3 413,219.8 428.2,216.9" fill="#e42a10" stroke="#7a1a10" stroke-width="0.4"/>
<circle cx="416" cy="200.3" r="1.9" fill="#fff" stroke="#7a7a7a" stroke-width="0.95"/>
<circle cx="406.1" cy="216.9" r="1.9" fill="#fff" stroke="#7a7a7a" stroke-width="0.95"/>
<circle cx="428.2" cy="216.9" r="1.9" fill="#fff" stroke="#7a7a7a" stroke-width="0.95"/>
<circle cx="413" cy="219.8" r="1.9" fill="#fff" stroke="#7a7a7a" stroke-width="0.95"/>
<polygon points="451.8,199.9 439.8,211.9 443.7,219.7" fill="#9a1608" stroke="#7a1a10" stroke-width="0.4"/>
<polygon points="451.8,199.9 443.7,219.7 464.9,217.3" fill="#e82c12" stroke="#7a1a10" stroke-width="0.4"/>
<polygon points="451.8,199.9 461.6,209.9 464.9,217.3" fill="#b81e0c" stroke="#7a1a10" stroke-width="0.4"/>
<circle cx="451.8" cy="199.9" r="1.9" fill="#fff" stroke="#7a7a7a" stroke-width="0.95"/>
<circle cx="439.8" cy="211.9" r="1.9" fill="#fff" stroke="#7a7a7a" stroke-width="0.95"/>
<circle cx="461.6" cy="209.9" r="1.9" fill="#fff" stroke="#7a7a7a" stroke-width="0.95"/>
<circle cx="464.9" cy="217.3" r="1.9" fill="#fff" stroke="#7a7a7a" stroke-width="0.95"/>
<circle cx="443.7" cy="219.7" r="1.9" fill="#fff" stroke="#7a7a7a" stroke-width="0.95"/>
<polygon points="484.1,198.4 473.6,213 491.1,217.3" fill="#e42a10" stroke="#7a1a10" stroke-width="0.4"/>
<polygon points="484.1,198.4 491.1,217.3 498.1,210.8" fill="#a41808" stroke="#7a1a10" stroke-width="0.4"/>
<polygon points="481.9,220.6 473.6,213 491.1,217.3" fill="#b81e0c" stroke="#7a1a10" stroke-width="0.4"/>
<polygon points="481.9,220.6 491.1,217.3 498.1,210.8" fill="#9a1608" stroke="#7a1a10" stroke-width="0.4"/>
<circle cx="484.1" cy="198.4" r="1.9" fill="#fff" stroke="#7a7a7a" stroke-width="0.95"/>
<circle cx="473.6" cy="213" r="1.9" fill="#fff" stroke="#7a7a7a" stroke-width="0.95"/>
<circle cx="498.1" cy="210.8" r="1.9" fill="#fff" stroke="#7a7a7a" stroke-width="0.95"/>
<circle cx="481.9" cy="220.6" r="1.9" fill="#fff" stroke="#7a7a7a" stroke-width="0.95"/>
<circle cx="491.1" cy="217.3" r="1.9" fill="#fff" stroke="#7a7a7a" stroke-width="0.95"/>
<polygon points="517.9,197.7 506.4,213.6 526,216.3" fill="#e83014" stroke="#7a1a10" stroke-width="0.4"/>
<polygon points="517.9,197.7 526,216.3 528.2,208.2" fill="#a81a0a" stroke="#7a1a10" stroke-width="0.4"/>
<polygon points="517.9,197.7 508.6,205.6 506.4,213.6" fill="#c8220e" stroke="#7a1a10" stroke-width="0.4"/>
<polygon points="516.2,223.5 506.4,213.6 526,216.3" fill="#d8280f" stroke="#7a1a10" stroke-width="0.4"/>
<polygon points="516.2,223.5 526,216.3 528.2,208.2" fill="#9a1608" stroke="#7a1a10" stroke-width="0.4"/>
<circle cx="517.9" cy="197.7" r="1.9" fill="#fff" stroke="#7a7a7a" stroke-width="0.95"/>
<circle cx="506.4" cy="213.6" r="1.9" fill="#fff" stroke="#7a7a7a" stroke-width="0.95"/>
<circle cx="528.2" cy="208.2" r="1.9" fill="#fff" stroke="#7a7a7a" stroke-width="0.95"/>
<circle cx="508.6" cy="205.6" r="1.9" fill="#fff" stroke="#7a7a7a" stroke-width="0.95"/>
<circle cx="526" cy="216.3" r="1.9" fill="#fff" stroke="#7a7a7a" stroke-width="0.95"/>
<circle cx="516.2" cy="223.5" r="1.9" fill="#fff" stroke="#7a7a7a" stroke-width="0.95"/>
</svg></body></html>
